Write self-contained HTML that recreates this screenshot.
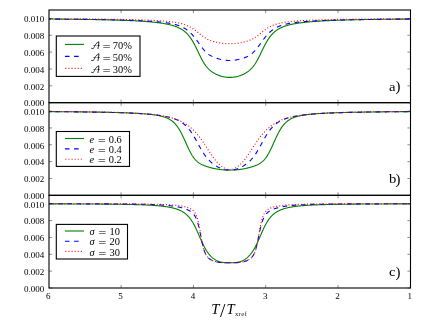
<!DOCTYPE html><html><head><meta charset="utf-8"><style>
html,body{margin:0;padding:0;background:#fff;width:436px;height:327px;overflow:hidden}
svg{display:block}
text{font-family:"Liberation Serif",serif;fill:#000}
.yt{font-size:9px;text-anchor:end}
.xt{font-size:9px;text-anchor:middle}
.lg{font-size:10.4px}
.eq{font-family:"DejaVu Serif",serif;fill:#7a7a7a}
.pl{font-size:13px}
.it{font-style:italic}
text.cal{font-family:"DejaVu Math TeX Gyre","DejaVu Serif",serif;font-size:9.6px}
</style></head><body>
<svg width="436" height="327" viewBox="0 0 436 327">
<rect width="436" height="327" fill="#fff"/>
<clipPath id="ca"><rect x="49.0" y="10.0" width="361.5" height="92.67"/></clipPath>
<g clip-path="url(#ca)" fill="none" stroke-width="1.1">
<path d="M49.00 19.04 L49.50 19.04 L50.00 19.04 L50.50 19.05 L51.00 19.05 L51.50 19.05 L52.00 19.06 L52.50 19.06 L53.00 19.07 L53.50 19.07 L54.00 19.07 L54.50 19.08 L55.00 19.08 L55.50 19.09 L56.00 19.09 L56.50 19.09 L57.00 19.10 L57.50 19.10 L58.00 19.11 L58.50 19.11 L59.00 19.12 L59.50 19.12 L60.00 19.12 L60.50 19.13 L61.00 19.13 L61.50 19.14 L62.00 19.14 L62.50 19.15 L63.00 19.15 L63.50 19.16 L64.00 19.16 L64.50 19.17 L65.00 19.17 L65.50 19.17 L66.00 19.18 L66.50 19.18 L67.00 19.19 L67.50 19.19 L68.00 19.20 L68.50 19.21 L69.00 19.21 L69.50 19.22 L70.00 19.22 L70.50 19.23 L71.00 19.23 L71.50 19.24 L72.00 19.24 L72.50 19.25 L73.00 19.25 L73.50 19.26 L74.00 19.27 L74.50 19.27 L75.00 19.28 L75.50 19.28 L76.00 19.29 L76.50 19.29 L77.00 19.30 L77.50 19.31 L78.00 19.31 L78.50 19.32 L79.00 19.33 L79.50 19.33 L80.00 19.34 L80.50 19.35 L81.00 19.35 L81.50 19.36 L82.00 19.37 L82.50 19.37 L83.00 19.38 L83.50 19.39 L84.00 19.39 L84.50 19.40 L85.00 19.41 L85.50 19.41 L86.00 19.42 L86.50 19.43 L87.00 19.44 L87.50 19.44 L88.00 19.45 L88.50 19.46 L89.00 19.47 L89.50 19.48 L90.00 19.48 L90.50 19.49 L91.00 19.50 L91.50 19.51 L92.00 19.52 L92.50 19.53 L93.00 19.53 L93.50 19.54 L94.00 19.55 L94.50 19.56 L95.00 19.57 L95.50 19.58 L96.00 19.59 L96.50 19.60 L97.00 19.61 L97.50 19.62 L98.00 19.62 L98.50 19.63 L99.00 19.64 L99.50 19.65 L100.00 19.66 L100.50 19.67 L101.00 19.68 L101.50 19.70 L102.00 19.71 L102.50 19.72 L103.00 19.73 L103.50 19.74 L104.00 19.75 L104.50 19.76 L105.00 19.77 L105.50 19.78 L106.00 19.79 L106.50 19.81 L107.00 19.82 L107.50 19.83 L108.00 19.84 L108.50 19.85 L109.00 19.87 L109.50 19.88 L110.00 19.89 L110.50 19.91 L111.00 19.92 L111.50 19.93 L112.00 19.95 L112.50 19.96 L113.00 19.97 L113.50 19.99 L114.00 20.00 L114.50 20.02 L115.00 20.03 L115.50 20.05 L116.00 20.06 L116.50 20.08 L117.00 20.09 L117.50 20.11 L118.00 20.12 L118.50 20.14 L119.00 20.15 L119.50 20.17 L120.00 20.19 L120.50 20.20 L121.00 20.22 L121.50 20.24 L122.00 20.26 L122.50 20.27 L123.00 20.29 L123.50 20.31 L124.00 20.33 L124.50 20.35 L125.00 20.37 L125.50 20.39 L126.00 20.41 L126.50 20.43 L127.00 20.45 L127.50 20.47 L128.00 20.49 L128.50 20.51 L129.00 20.53 L129.50 20.55 L130.00 20.58 L130.50 20.60 L131.00 20.62 L131.50 20.65 L132.00 20.67 L132.50 20.69 L133.00 20.72 L133.50 20.74 L134.00 20.77 L134.50 20.79 L135.00 20.82 L135.50 20.85 L136.00 20.87 L136.50 20.90 L137.00 20.93 L137.50 20.96 L138.00 20.98 L138.50 21.01 L139.00 21.04 L139.50 21.07 L140.00 21.10 L140.50 21.14 L141.00 21.17 L141.50 21.20 L142.00 21.23 L142.50 21.27 L143.00 21.30 L143.50 21.33 L144.00 21.37 L144.50 21.41 L145.00 21.44 L145.50 21.48 L146.00 21.52 L146.50 21.56 L147.00 21.60 L147.50 21.64 L148.00 21.68 L148.50 21.72 L149.00 21.76 L149.50 21.80 L150.00 21.85 L150.50 21.89 L151.00 21.94 L151.50 21.99 L152.00 22.04 L152.50 22.08 L153.00 22.13 L153.50 22.19 L154.00 22.24 L154.50 22.29 L155.00 22.35 L155.50 22.40 L156.00 22.46 L156.50 22.52 L157.00 22.58 L157.50 22.64 L158.00 22.70 L158.50 22.76 L159.00 22.83 L159.50 22.90 L160.00 22.96 L160.50 23.03 L161.00 23.11 L161.50 23.18 L162.00 23.26 L162.50 23.33 L163.00 23.41 L163.50 23.50 L164.00 23.58 L164.50 23.67 L165.00 23.76 L165.50 23.85 L166.00 23.94 L166.50 24.04 L167.00 24.14 L167.50 24.24 L168.00 24.35 L168.50 24.46 L169.00 24.57 L169.50 24.69 L170.00 24.81 L170.50 24.93 L171.00 25.06 L171.50 25.19 L172.00 25.33 L172.50 25.47 L173.00 25.62 L173.50 25.77 L174.00 25.93 L174.50 26.10 L175.00 26.27 L175.50 26.45 L176.00 26.63 L176.50 26.83 L177.00 27.03 L177.50 27.23 L178.00 27.45 L178.50 27.68 L179.00 27.92 L179.50 28.17 L180.00 28.42 L180.50 28.70 L181.00 28.98 L181.50 29.28 L182.00 29.59 L182.50 29.91 L183.00 30.25 L183.50 30.61 L184.00 30.99 L184.50 31.38 L185.00 31.79 L185.50 32.23 L186.00 32.68 L186.50 33.16 L187.00 33.66 L187.50 34.19 L188.00 34.74 L188.50 35.32 L189.00 35.93 L189.50 36.57 L190.00 37.23 L190.50 37.92 L191.00 38.65 L191.50 39.40 L192.00 40.19 L192.50 41.01 L193.00 41.85 L193.50 42.73 L194.00 43.63 L194.50 44.56 L195.00 45.52 L195.50 46.49 L196.00 47.49 L196.50 48.50 L197.00 49.52 L197.50 50.56 L198.00 51.60 L198.50 52.64 L199.00 53.68 L199.50 54.71 L200.00 55.73 L200.50 56.74 L201.00 57.72 L201.50 58.69 L202.00 59.63 L202.50 60.54 L203.00 61.42 L203.50 62.27 L204.00 63.09 L204.50 63.87 L205.00 64.61 L205.50 65.32 L206.00 66.00 L206.50 66.64 L207.00 67.25 L207.50 67.82 L208.00 68.37 L208.50 68.88 L209.00 69.37 L209.50 69.84 L210.00 70.27 L210.50 70.69 L211.00 71.08 L211.50 71.46 L212.00 71.82 L212.50 72.16 L213.00 72.48 L213.50 72.79 L214.00 73.09 L214.50 73.37 L215.00 73.64 L215.50 73.90 L216.00 74.15 L216.50 74.39 L217.00 74.62 L217.50 74.84 L218.00 75.05 L218.50 75.26 L219.00 75.45 L219.50 75.63 L220.00 75.81 L220.50 75.97 L221.00 76.13 L221.50 76.28 L222.00 76.42 L222.50 76.55 L223.00 76.67 L223.50 76.78 L224.00 76.88 L224.50 76.97 L225.00 77.05 L225.50 77.13 L226.00 77.19 L226.50 77.24 L227.00 77.29 L227.50 77.33 L228.00 77.36 L228.50 77.38 L229.00 77.39 L229.50 77.40 L230.00 77.40 L230.50 77.39 L231.00 77.38 L231.50 77.36 L232.00 77.33 L232.50 77.30 L233.00 77.25 L233.50 77.20 L234.00 77.14 L234.50 77.07 L235.00 76.99 L235.50 76.90 L236.00 76.80 L236.50 76.69 L237.00 76.57 L237.50 76.44 L238.00 76.31 L238.50 76.16 L239.00 76.01 L239.50 75.84 L240.00 75.67 L240.50 75.49 L241.00 75.30 L241.50 75.10 L242.00 74.89 L242.50 74.67 L243.00 74.44 L243.50 74.20 L244.00 73.96 L244.50 73.70 L245.00 73.43 L245.50 73.15 L246.00 72.85 L246.50 72.54 L247.00 72.22 L247.50 71.89 L248.00 71.53 L248.50 71.16 L249.00 70.77 L249.50 70.36 L250.00 69.92 L250.50 69.47 L251.00 68.98 L251.50 68.47 L252.00 67.93 L252.50 67.36 L253.00 66.76 L253.50 66.13 L254.00 65.46 L254.50 64.76 L255.00 64.02 L255.50 63.24 L256.00 62.44 L256.50 61.59 L257.00 60.72 L257.50 59.81 L258.00 58.88 L258.50 57.92 L259.00 56.94 L259.50 55.93 L260.00 54.92 L260.50 53.89 L261.00 52.85 L261.50 51.81 L262.00 50.77 L262.50 49.73 L263.00 48.70 L263.50 47.69 L264.00 46.69 L264.50 45.71 L265.00 44.75 L265.50 43.82 L266.00 42.91 L266.50 42.03 L267.00 41.17 L267.50 40.35 L268.00 39.56 L268.50 38.80 L269.00 38.07 L269.50 37.37 L270.00 36.70 L270.50 36.05 L271.00 35.44 L271.50 34.86 L272.00 34.30 L272.50 33.77 L273.00 33.26 L273.50 32.78 L274.00 32.32 L274.50 31.88 L275.00 31.46 L275.50 31.06 L276.00 30.68 L276.50 30.32 L277.00 29.98 L277.50 29.65 L278.00 29.34 L278.50 29.04 L279.00 28.75 L279.50 28.48 L280.00 28.22 L280.50 27.97 L281.00 27.73 L281.50 27.50 L282.00 27.28 L282.50 27.07 L283.00 26.86 L283.50 26.67 L284.00 26.48 L284.50 26.30 L285.00 26.13 L285.50 25.97 L286.00 25.81 L286.50 25.65 L287.00 25.50 L287.50 25.36 L288.00 25.22 L288.50 25.09 L289.00 24.96 L289.50 24.83 L290.00 24.71 L290.50 24.59 L291.00 24.48 L291.50 24.37 L292.00 24.26 L292.50 24.16 L293.00 24.06 L293.50 23.96 L294.00 23.87 L294.50 23.77 L295.00 23.69 L295.50 23.60 L296.00 23.51 L296.50 23.43 L297.00 23.35 L297.50 23.27 L298.00 23.20 L298.50 23.12 L299.00 23.05 L299.50 22.98 L300.00 22.91 L300.50 22.84 L301.00 22.78 L301.50 22.71 L302.00 22.65 L302.50 22.59 L303.00 22.53 L303.50 22.47 L304.00 22.41 L304.50 22.36 L305.00 22.30 L305.50 22.25 L306.00 22.20 L306.50 22.14 L307.00 22.09 L307.50 22.04 L308.00 22.00 L308.50 21.95 L309.00 21.90 L309.50 21.86 L310.00 21.81 L310.50 21.77 L311.00 21.73 L311.50 21.69 L312.00 21.64 L312.50 21.60 L313.00 21.56 L313.50 21.53 L314.00 21.49 L314.50 21.45 L315.00 21.41 L315.50 21.38 L316.00 21.34 L316.50 21.31 L317.00 21.27 L317.50 21.24 L318.00 21.21 L318.50 21.17 L319.00 21.14 L319.50 21.11 L320.00 21.08 L320.50 21.05 L321.00 21.02 L321.50 20.99 L322.00 20.96 L322.50 20.93 L323.00 20.91 L323.50 20.88 L324.00 20.85 L324.50 20.82 L325.00 20.80 L325.50 20.77 L326.00 20.75 L326.50 20.72 L327.00 20.70 L327.50 20.67 L328.00 20.65 L328.50 20.63 L329.00 20.60 L329.50 20.58 L330.00 20.56 L330.50 20.54 L331.00 20.51 L331.50 20.49 L332.00 20.47 L332.50 20.45 L333.00 20.43 L333.50 20.41 L334.00 20.39 L334.50 20.37 L335.00 20.35 L335.50 20.33 L336.00 20.31 L336.50 20.30 L337.00 20.28 L337.50 20.26 L338.00 20.24 L338.50 20.23 L339.00 20.21 L339.50 20.19 L340.00 20.17 L340.50 20.16 L341.00 20.14 L341.50 20.13 L342.00 20.11 L342.50 20.09 L343.00 20.08 L343.50 20.06 L344.00 20.05 L344.50 20.03 L345.00 20.02 L345.50 20.00 L346.00 19.99 L346.50 19.98 L347.00 19.96 L347.50 19.95 L348.00 19.94 L348.50 19.92 L349.00 19.91 L349.50 19.90 L350.00 19.88 L350.50 19.87 L351.00 19.86 L351.50 19.85 L352.00 19.83 L352.50 19.82 L353.00 19.81 L353.50 19.80 L354.00 19.79 L354.50 19.77 L355.00 19.76 L355.50 19.75 L356.00 19.74 L356.50 19.73 L357.00 19.72 L357.50 19.71 L358.00 19.70 L358.50 19.69 L359.00 19.68 L359.50 19.67 L360.00 19.66 L360.50 19.65 L361.00 19.64 L361.50 19.63 L362.00 19.62 L362.50 19.61 L363.00 19.60 L363.50 19.59 L364.00 19.58 L364.50 19.57 L365.00 19.56 L365.50 19.55 L366.00 19.54 L366.50 19.54 L367.00 19.53 L367.50 19.52 L368.00 19.51 L368.50 19.50 L369.00 19.49 L369.50 19.49 L370.00 19.48 L370.50 19.47 L371.00 19.46 L371.50 19.45 L372.00 19.45 L372.50 19.44 L373.00 19.43 L373.50 19.42 L374.00 19.42 L374.50 19.41 L375.00 19.40 L375.50 19.39 L376.00 19.39 L376.50 19.38 L377.00 19.37 L377.50 19.37 L378.00 19.36 L378.50 19.35 L379.00 19.35 L379.50 19.34 L380.00 19.33 L380.50 19.33 L381.00 19.32 L381.50 19.31 L382.00 19.31 L382.50 19.30 L383.00 19.30 L383.50 19.29 L384.00 19.28 L384.50 19.28 L385.00 19.27 L385.50 19.27 L386.00 19.26 L386.50 19.26 L387.00 19.25 L387.50 19.24 L388.00 19.24 L388.50 19.23 L389.00 19.23 L389.50 19.22 L390.00 19.22 L390.50 19.21 L391.00 19.21 L391.50 19.20 L392.00 19.20 L392.50 19.19 L393.00 19.19 L393.50 19.18 L394.00 19.18 L394.50 19.17 L395.00 19.17 L395.50 19.16 L396.00 19.16 L396.50 19.15 L397.00 19.15 L397.50 19.14 L398.00 19.14 L398.50 19.13 L399.00 19.13 L399.50 19.12 L400.00 19.12 L400.50 19.12 L401.00 19.11 L401.50 19.11 L402.00 19.10 L402.50 19.10 L403.00 19.09 L403.50 19.09 L404.00 19.09 L404.50 19.08 L405.00 19.08 L405.50 19.07 L406.00 19.07 L406.50 19.07 L407.00 19.06 L407.50 19.06 L408.00 19.05 L408.50 19.05 L409.00 19.05 L409.50 19.04 L410.00 19.04 L410.50 19.04" stroke="#008000"/>
<path d="M49.00 19.07 L49.50 19.07 L50.00 19.08 L50.50 19.08 L51.00 19.08 L51.50 19.09 L52.00 19.09 L52.50 19.09 L53.00 19.10 L53.50 19.10 L54.00 19.10 L54.50 19.11 L55.00 19.11 L55.50 19.11 L56.00 19.12 L56.50 19.12 L57.00 19.12 L57.50 19.13 L58.00 19.13 L58.50 19.14 L59.00 19.14 L59.50 19.14 L60.00 19.15 L60.50 19.15 L61.00 19.15 L61.50 19.16 L62.00 19.16 L62.50 19.17 L63.00 19.17 L63.50 19.17 L64.00 19.18 L64.50 19.18 L65.00 19.19 L65.50 19.19 L66.00 19.20 L66.50 19.20 L67.00 19.20 L67.50 19.21 L68.00 19.21 L68.50 19.22 L69.00 19.22 L69.50 19.23 L70.00 19.23 L70.50 19.24 L71.00 19.24 L71.50 19.25 L72.00 19.25 L72.50 19.25 L73.00 19.26 L73.50 19.26 L74.00 19.27 L74.50 19.27 L75.00 19.28 L75.50 19.28 L76.00 19.29 L76.50 19.29 L77.00 19.30 L77.50 19.30 L78.00 19.31 L78.50 19.31 L79.00 19.32 L79.50 19.33 L80.00 19.33 L80.50 19.34 L81.00 19.34 L81.50 19.35 L82.00 19.35 L82.50 19.36 L83.00 19.36 L83.50 19.37 L84.00 19.38 L84.50 19.38 L85.00 19.39 L85.50 19.39 L86.00 19.40 L86.50 19.41 L87.00 19.41 L87.50 19.42 L88.00 19.43 L88.50 19.43 L89.00 19.44 L89.50 19.44 L90.00 19.45 L90.50 19.46 L91.00 19.46 L91.50 19.47 L92.00 19.48 L92.50 19.48 L93.00 19.49 L93.50 19.50 L94.00 19.51 L94.50 19.51 L95.00 19.52 L95.50 19.53 L96.00 19.54 L96.50 19.54 L97.00 19.55 L97.50 19.56 L98.00 19.57 L98.50 19.57 L99.00 19.58 L99.50 19.59 L100.00 19.60 L100.50 19.61 L101.00 19.61 L101.50 19.62 L102.00 19.63 L102.50 19.64 L103.00 19.65 L103.50 19.66 L104.00 19.66 L104.50 19.67 L105.00 19.68 L105.50 19.69 L106.00 19.70 L106.50 19.71 L107.00 19.72 L107.50 19.73 L108.00 19.74 L108.50 19.75 L109.00 19.76 L109.50 19.77 L110.00 19.78 L110.50 19.79 L111.00 19.80 L111.50 19.81 L112.00 19.82 L112.50 19.83 L113.00 19.84 L113.50 19.85 L114.00 19.86 L114.50 19.87 L115.00 19.88 L115.50 19.90 L116.00 19.91 L116.50 19.92 L117.00 19.93 L117.50 19.94 L118.00 19.95 L118.50 19.97 L119.00 19.98 L119.50 19.99 L120.00 20.00 L120.50 20.02 L121.00 20.03 L121.50 20.04 L122.00 20.06 L122.50 20.07 L123.00 20.08 L123.50 20.10 L124.00 20.11 L124.50 20.13 L125.00 20.14 L125.50 20.16 L126.00 20.17 L126.50 20.19 L127.00 20.20 L127.50 20.22 L128.00 20.23 L128.50 20.25 L129.00 20.26 L129.50 20.28 L130.00 20.30 L130.50 20.31 L131.00 20.33 L131.50 20.35 L132.00 20.37 L132.50 20.38 L133.00 20.40 L133.50 20.42 L134.00 20.44 L134.50 20.46 L135.00 20.48 L135.50 20.50 L136.00 20.52 L136.50 20.54 L137.00 20.56 L137.50 20.58 L138.00 20.60 L138.50 20.62 L139.00 20.64 L139.50 20.66 L140.00 20.69 L140.50 20.71 L141.00 20.73 L141.50 20.76 L142.00 20.78 L142.50 20.81 L143.00 20.83 L143.50 20.86 L144.00 20.88 L144.50 20.91 L145.00 20.93 L145.50 20.96 L146.00 20.99 L146.50 21.02 L147.00 21.05 L147.50 21.08 L148.00 21.10 L148.50 21.14 L149.00 21.17 L149.50 21.20 L150.00 21.23 L150.50 21.26 L151.00 21.30 L151.50 21.33 L152.00 21.37 L152.50 21.40 L153.00 21.44 L153.50 21.47 L154.00 21.51 L154.50 21.55 L155.00 21.59 L155.50 21.63 L156.00 21.67 L156.50 21.71 L157.00 21.76 L157.50 21.80 L158.00 21.85 L158.50 21.89 L159.00 21.94 L159.50 21.99 L160.00 22.04 L160.50 22.09 L161.00 22.14 L161.50 22.20 L162.00 22.25 L162.50 22.31 L163.00 22.37 L163.50 22.43 L164.00 22.49 L164.50 22.55 L165.00 22.62 L165.50 22.69 L166.00 22.76 L166.50 22.83 L167.00 22.90 L167.50 22.98 L168.00 23.06 L168.50 23.14 L169.00 23.22 L169.50 23.31 L170.00 23.40 L170.50 23.49 L171.00 23.58 L171.50 23.68 L172.00 23.79 L172.50 23.89 L173.00 24.00 L173.50 24.12 L174.00 24.23 L174.50 24.36 L175.00 24.48 L175.50 24.62 L176.00 24.76 L176.50 24.90 L177.00 25.05 L177.50 25.20 L178.00 25.37 L178.50 25.54 L179.00 25.71 L179.50 25.90 L180.00 26.09 L180.50 26.29 L181.00 26.50 L181.50 26.72 L182.00 26.95 L182.50 27.18 L183.00 27.43 L183.50 27.69 L184.00 27.97 L184.50 28.25 L185.00 28.55 L185.50 28.86 L186.00 29.19 L186.50 29.53 L187.00 29.89 L187.50 30.26 L188.00 30.65 L188.50 31.06 L189.00 31.48 L189.50 31.92 L190.00 32.38 L190.50 32.86 L191.00 33.36 L191.50 33.87 L192.00 34.41 L192.50 34.96 L193.00 35.53 L193.50 36.12 L194.00 36.72 L194.50 37.35 L195.00 37.98 L195.50 38.63 L196.00 39.30 L196.50 39.97 L197.00 40.65 L197.50 41.35 L198.00 42.04 L198.50 42.74 L199.00 43.44 L199.50 44.14 L200.00 44.83 L200.50 45.52 L201.00 46.19 L201.50 46.86 L202.00 47.51 L202.50 48.15 L203.00 48.77 L203.50 49.38 L204.00 49.96 L204.50 50.52 L205.00 51.06 L205.50 51.58 L206.00 52.08 L206.50 52.55 L207.00 53.00 L207.50 53.43 L208.00 53.83 L208.50 54.22 L209.00 54.58 L209.50 54.92 L210.00 55.25 L210.50 55.55 L211.00 55.84 L211.50 56.12 L212.00 56.38 L212.50 56.62 L213.00 56.86 L213.50 57.08 L214.00 57.29 L214.50 57.49 L215.00 57.68 L215.50 57.86 L216.00 58.04 L216.50 58.20 L217.00 58.36 L217.50 58.52 L218.00 58.67 L218.50 58.81 L219.00 58.94 L219.50 59.08 L220.00 59.20 L220.50 59.32 L221.00 59.44 L221.50 59.55 L222.00 59.66 L222.50 59.76 L223.00 59.85 L223.50 59.94 L224.00 60.03 L224.50 60.11 L225.00 60.18 L225.50 60.25 L226.00 60.31 L226.50 60.36 L227.00 60.41 L227.50 60.45 L228.00 60.49 L228.50 60.52 L229.00 60.53 L229.50 60.55 L230.00 60.55 L230.50 60.54 L231.00 60.52 L231.50 60.49 L232.00 60.46 L232.50 60.42 L233.00 60.38 L233.50 60.32 L234.00 60.26 L234.50 60.20 L235.00 60.12 L235.50 60.04 L236.00 59.96 L236.50 59.87 L237.00 59.78 L237.50 59.68 L238.00 59.57 L238.50 59.46 L239.00 59.35 L239.50 59.23 L240.00 59.10 L240.50 58.97 L241.00 58.84 L241.50 58.69 L242.00 58.55 L242.50 58.40 L243.00 58.24 L243.50 58.07 L244.00 57.90 L244.50 57.72 L245.00 57.53 L245.50 57.33 L246.00 57.12 L246.50 56.90 L247.00 56.67 L247.50 56.43 L248.00 56.17 L248.50 55.90 L249.00 55.61 L249.50 55.31 L250.00 54.99 L250.50 54.65 L251.00 54.29 L251.50 53.91 L252.00 53.51 L252.50 53.09 L253.00 52.64 L253.50 52.17 L254.00 51.68 L254.50 51.17 L255.00 50.63 L255.50 50.07 L256.00 49.50 L256.50 48.90 L257.00 48.28 L257.50 47.64 L258.00 46.99 L258.50 46.33 L259.00 45.65 L259.50 44.97 L260.00 44.28 L260.50 43.58 L261.00 42.88 L261.50 42.18 L262.00 41.48 L262.50 40.79 L263.00 40.11 L263.50 39.43 L264.00 38.77 L264.50 38.11 L265.00 37.47 L265.50 36.85 L266.00 36.24 L266.50 35.65 L267.00 35.07 L267.50 34.52 L268.00 33.98 L268.50 33.46 L269.00 32.96 L269.50 32.48 L270.00 32.01 L270.50 31.57 L271.00 31.14 L271.50 30.73 L272.00 30.34 L272.50 29.96 L273.00 29.60 L273.50 29.26 L274.00 28.93 L274.50 28.61 L275.00 28.31 L275.50 28.02 L276.00 27.75 L276.50 27.49 L277.00 27.23 L277.50 26.99 L278.00 26.76 L278.50 26.54 L279.00 26.33 L279.50 26.13 L280.00 25.93 L280.50 25.75 L281.00 25.57 L281.50 25.40 L282.00 25.24 L282.50 25.08 L283.00 24.93 L283.50 24.78 L284.00 24.64 L284.50 24.51 L285.00 24.38 L285.50 24.26 L286.00 24.14 L286.50 24.02 L287.00 23.91 L287.50 23.81 L288.00 23.70 L288.50 23.60 L289.00 23.51 L289.50 23.41 L290.00 23.33 L290.50 23.24 L291.00 23.15 L291.50 23.07 L292.00 22.99 L292.50 22.92 L293.00 22.84 L293.50 22.77 L294.00 22.70 L294.50 22.63 L295.00 22.57 L295.50 22.50 L296.00 22.44 L296.50 22.38 L297.00 22.32 L297.50 22.27 L298.00 22.21 L298.50 22.16 L299.00 22.10 L299.50 22.05 L300.00 22.00 L300.50 21.95 L301.00 21.90 L301.50 21.86 L302.00 21.81 L302.50 21.77 L303.00 21.72 L303.50 21.68 L304.00 21.64 L304.50 21.60 L305.00 21.56 L305.50 21.52 L306.00 21.48 L306.50 21.44 L307.00 21.41 L307.50 21.37 L308.00 21.34 L308.50 21.30 L309.00 21.27 L309.50 21.24 L310.00 21.20 L310.50 21.17 L311.00 21.14 L311.50 21.11 L312.00 21.08 L312.50 21.05 L313.00 21.02 L313.50 20.99 L314.00 20.97 L314.50 20.94 L315.00 20.91 L315.50 20.89 L316.00 20.86 L316.50 20.84 L317.00 20.81 L317.50 20.79 L318.00 20.76 L318.50 20.74 L319.00 20.71 L319.50 20.69 L320.00 20.67 L320.50 20.65 L321.00 20.63 L321.50 20.60 L322.00 20.58 L322.50 20.56 L323.00 20.54 L323.50 20.52 L324.00 20.50 L324.50 20.48 L325.00 20.46 L325.50 20.44 L326.00 20.42 L326.50 20.41 L327.00 20.39 L327.50 20.37 L328.00 20.35 L328.50 20.34 L329.00 20.32 L329.50 20.30 L330.00 20.28 L330.50 20.27 L331.00 20.25 L331.50 20.24 L332.00 20.22 L332.50 20.20 L333.00 20.19 L333.50 20.17 L334.00 20.16 L334.50 20.14 L335.00 20.13 L335.50 20.12 L336.00 20.10 L336.50 20.09 L337.00 20.07 L337.50 20.06 L338.00 20.05 L338.50 20.03 L339.00 20.02 L339.50 20.01 L340.00 19.99 L340.50 19.98 L341.00 19.97 L341.50 19.96 L342.00 19.95 L342.50 19.93 L343.00 19.92 L343.50 19.91 L344.00 19.90 L344.50 19.89 L345.00 19.88 L345.50 19.86 L346.00 19.85 L346.50 19.84 L347.00 19.83 L347.50 19.82 L348.00 19.81 L348.50 19.80 L349.00 19.79 L349.50 19.78 L350.00 19.77 L350.50 19.76 L351.00 19.75 L351.50 19.74 L352.00 19.73 L352.50 19.72 L353.00 19.71 L353.50 19.70 L354.00 19.69 L354.50 19.68 L355.00 19.68 L355.50 19.67 L356.00 19.66 L356.50 19.65 L357.00 19.64 L357.50 19.63 L358.00 19.62 L358.50 19.62 L359.00 19.61 L359.50 19.60 L360.00 19.59 L360.50 19.58 L361.00 19.57 L361.50 19.57 L362.00 19.56 L362.50 19.55 L363.00 19.54 L363.50 19.54 L364.00 19.53 L364.50 19.52 L365.00 19.51 L365.50 19.51 L366.00 19.50 L366.50 19.49 L367.00 19.49 L367.50 19.48 L368.00 19.47 L368.50 19.47 L369.00 19.46 L369.50 19.45 L370.00 19.45 L370.50 19.44 L371.00 19.43 L371.50 19.43 L372.00 19.42 L372.50 19.41 L373.00 19.41 L373.50 19.40 L374.00 19.40 L374.50 19.39 L375.00 19.38 L375.50 19.38 L376.00 19.37 L376.50 19.37 L377.00 19.36 L377.50 19.35 L378.00 19.35 L378.50 19.34 L379.00 19.34 L379.50 19.33 L380.00 19.33 L380.50 19.32 L381.00 19.32 L381.50 19.31 L382.00 19.31 L382.50 19.30 L383.00 19.30 L383.50 19.29 L384.00 19.28 L384.50 19.28 L385.00 19.27 L385.50 19.27 L386.00 19.27 L386.50 19.26 L387.00 19.26 L387.50 19.25 L388.00 19.25 L388.50 19.24 L389.00 19.24 L389.50 19.23 L390.00 19.23 L390.50 19.22 L391.00 19.22 L391.50 19.21 L392.00 19.21 L392.50 19.21 L393.00 19.20 L393.50 19.20 L394.00 19.19 L394.50 19.19 L395.00 19.18 L395.50 19.18 L396.00 19.18 L396.50 19.17 L397.00 19.17 L397.50 19.16 L398.00 19.16 L398.50 19.16 L399.00 19.15 L399.50 19.15 L400.00 19.14 L400.50 19.14 L401.00 19.14 L401.50 19.13 L402.00 19.13 L402.50 19.13 L403.00 19.12 L403.50 19.12 L404.00 19.11 L404.50 19.11 L405.00 19.11 L405.50 19.10 L406.00 19.10 L406.50 19.10 L407.00 19.09 L407.50 19.09 L408.00 19.09 L408.50 19.08 L409.00 19.08 L409.50 19.08 L410.00 19.07 L410.50 19.07" stroke="#0000ff" stroke-dasharray="4.6 4.6" stroke-dashoffset="2.7"/>
<path d="M49.00 18.76 L49.50 18.77 L50.00 18.77 L50.50 18.77 L51.00 18.77 L51.50 18.77 L52.00 18.78 L52.50 18.78 L53.00 18.78 L53.50 18.78 L54.00 18.78 L54.50 18.79 L55.00 18.79 L55.50 18.79 L56.00 18.79 L56.50 18.79 L57.00 18.80 L57.50 18.80 L58.00 18.80 L58.50 18.80 L59.00 18.81 L59.50 18.81 L60.00 18.81 L60.50 18.81 L61.00 18.82 L61.50 18.82 L62.00 18.82 L62.50 18.82 L63.00 18.83 L63.50 18.83 L64.00 18.83 L64.50 18.83 L65.00 18.84 L65.50 18.84 L66.00 18.84 L66.50 18.84 L67.00 18.85 L67.50 18.85 L68.00 18.85 L68.50 18.85 L69.00 18.86 L69.50 18.86 L70.00 18.86 L70.50 18.87 L71.00 18.87 L71.50 18.87 L72.00 18.87 L72.50 18.88 L73.00 18.88 L73.50 18.88 L74.00 18.89 L74.50 18.89 L75.00 18.89 L75.50 18.90 L76.00 18.90 L76.50 18.90 L77.00 18.90 L77.50 18.91 L78.00 18.91 L78.50 18.91 L79.00 18.92 L79.50 18.92 L80.00 18.92 L80.50 18.93 L81.00 18.93 L81.50 18.93 L82.00 18.94 L82.50 18.94 L83.00 18.95 L83.50 18.95 L84.00 18.95 L84.50 18.96 L85.00 18.96 L85.50 18.96 L86.00 18.97 L86.50 18.97 L87.00 18.98 L87.50 18.98 L88.00 18.98 L88.50 18.99 L89.00 18.99 L89.50 19.00 L90.00 19.00 L90.50 19.00 L91.00 19.01 L91.50 19.01 L92.00 19.02 L92.50 19.02 L93.00 19.03 L93.50 19.03 L94.00 19.04 L94.50 19.04 L95.00 19.04 L95.50 19.05 L96.00 19.05 L96.50 19.06 L97.00 19.06 L97.50 19.07 L98.00 19.07 L98.50 19.08 L99.00 19.08 L99.50 19.09 L100.00 19.09 L100.50 19.10 L101.00 19.10 L101.50 19.11 L102.00 19.12 L102.50 19.12 L103.00 19.13 L103.50 19.13 L104.00 19.14 L104.50 19.14 L105.00 19.15 L105.50 19.16 L106.00 19.16 L106.50 19.17 L107.00 19.17 L107.50 19.18 L108.00 19.19 L108.50 19.19 L109.00 19.20 L109.50 19.21 L110.00 19.21 L110.50 19.22 L111.00 19.23 L111.50 19.23 L112.00 19.24 L112.50 19.25 L113.00 19.25 L113.50 19.26 L114.00 19.27 L114.50 19.28 L115.00 19.28 L115.50 19.29 L116.00 19.30 L116.50 19.31 L117.00 19.31 L117.50 19.32 L118.00 19.33 L118.50 19.34 L119.00 19.35 L119.50 19.36 L120.00 19.36 L120.50 19.37 L121.00 19.38 L121.50 19.39 L122.00 19.40 L122.50 19.41 L123.00 19.42 L123.50 19.43 L124.00 19.44 L124.50 19.45 L125.00 19.46 L125.50 19.47 L126.00 19.48 L126.50 19.49 L127.00 19.50 L127.50 19.51 L128.00 19.52 L128.50 19.53 L129.00 19.54 L129.50 19.55 L130.00 19.56 L130.50 19.57 L131.00 19.58 L131.50 19.60 L132.00 19.61 L132.50 19.62 L133.00 19.63 L133.50 19.65 L134.00 19.66 L134.50 19.67 L135.00 19.68 L135.50 19.70 L136.00 19.71 L136.50 19.72 L137.00 19.74 L137.50 19.75 L138.00 19.77 L138.50 19.78 L139.00 19.80 L139.50 19.81 L140.00 19.83 L140.50 19.84 L141.00 19.86 L141.50 19.88 L142.00 19.89 L142.50 19.91 L143.00 19.93 L143.50 19.94 L144.00 19.96 L144.50 19.98 L145.00 20.00 L145.50 20.02 L146.00 20.03 L146.50 20.05 L147.00 20.07 L147.50 20.09 L148.00 20.11 L148.50 20.13 L149.00 20.16 L149.50 20.18 L150.00 20.20 L150.50 20.22 L151.00 20.24 L151.50 20.27 L152.00 20.29 L152.50 20.32 L153.00 20.34 L153.50 20.37 L154.00 20.39 L154.50 20.42 L155.00 20.44 L155.50 20.47 L156.00 20.50 L156.50 20.53 L157.00 20.56 L157.50 20.59 L158.00 20.62 L158.50 20.65 L159.00 20.68 L159.50 20.71 L160.00 20.75 L160.50 20.78 L161.00 20.82 L161.50 20.85 L162.00 20.89 L162.50 20.93 L163.00 20.97 L163.50 21.01 L164.00 21.05 L164.50 21.09 L165.00 21.13 L165.50 21.18 L166.00 21.22 L166.50 21.27 L167.00 21.32 L167.50 21.36 L168.00 21.41 L168.50 21.47 L169.00 21.52 L169.50 21.58 L170.00 21.63 L170.50 21.69 L171.00 21.75 L171.50 21.81 L172.00 21.88 L172.50 21.94 L173.00 22.01 L173.50 22.08 L174.00 22.16 L174.50 22.23 L175.00 22.31 L175.50 22.39 L176.00 22.48 L176.50 22.56 L177.00 22.66 L177.50 22.75 L178.00 22.85 L178.50 22.95 L179.00 23.05 L179.50 23.16 L180.00 23.28 L180.50 23.40 L181.00 23.52 L181.50 23.65 L182.00 23.78 L182.50 23.92 L183.00 24.07 L183.50 24.22 L184.00 24.38 L184.50 24.54 L185.00 24.72 L185.50 24.90 L186.00 25.09 L186.50 25.28 L187.00 25.49 L187.50 25.70 L188.00 25.92 L188.50 26.16 L189.00 26.40 L189.50 26.65 L190.00 26.91 L190.50 27.19 L191.00 27.47 L191.50 27.76 L192.00 28.07 L192.50 28.38 L193.00 28.71 L193.50 29.05 L194.00 29.39 L194.50 29.75 L195.00 30.12 L195.50 30.49 L196.00 30.87 L196.50 31.26 L197.00 31.65 L197.50 32.05 L198.00 32.45 L198.50 32.86 L199.00 33.26 L199.50 33.67 L200.00 34.07 L200.50 34.47 L201.00 34.87 L201.50 35.26 L202.00 35.64 L202.50 36.01 L203.00 36.38 L203.50 36.74 L204.00 37.08 L204.50 37.42 L205.00 37.74 L205.50 38.05 L206.00 38.35 L206.50 38.63 L207.00 38.90 L207.50 39.16 L208.00 39.41 L208.50 39.65 L209.00 39.88 L209.50 40.09 L210.00 40.30 L210.50 40.49 L211.00 40.68 L211.50 40.86 L212.00 41.03 L212.50 41.19 L213.00 41.34 L213.50 41.49 L214.00 41.63 L214.50 41.76 L215.00 41.89 L215.50 42.02 L216.00 42.14 L216.50 42.25 L217.00 42.36 L217.50 42.46 L218.00 42.56 L218.50 42.66 L219.00 42.75 L219.50 42.84 L220.00 42.92 L220.50 43.00 L221.00 43.07 L221.50 43.14 L222.00 43.21 L222.50 43.27 L223.00 43.33 L223.50 43.38 L224.00 43.43 L224.50 43.48 L225.00 43.52 L225.50 43.56 L226.00 43.59 L226.50 43.62 L227.00 43.64 L227.50 43.66 L228.00 43.68 L228.50 43.69 L229.00 43.69 L229.50 43.70 L230.00 43.70 L230.50 43.70 L231.00 43.69 L231.50 43.68 L232.00 43.66 L232.50 43.65 L233.00 43.62 L233.50 43.60 L234.00 43.56 L234.50 43.53 L235.00 43.49 L235.50 43.44 L236.00 43.39 L236.50 43.34 L237.00 43.28 L237.50 43.22 L238.00 43.16 L238.50 43.09 L239.00 43.01 L239.50 42.94 L240.00 42.85 L240.50 42.77 L241.00 42.68 L241.50 42.58 L242.00 42.48 L242.50 42.38 L243.00 42.27 L243.50 42.16 L244.00 42.04 L244.50 41.92 L245.00 41.79 L245.50 41.66 L246.00 41.52 L246.50 41.37 L247.00 41.22 L247.50 41.06 L248.00 40.89 L248.50 40.71 L249.00 40.53 L249.50 40.34 L250.00 40.13 L250.50 39.92 L251.00 39.70 L251.50 39.46 L252.00 39.22 L252.50 38.96 L253.00 38.69 L253.50 38.40 L254.00 38.11 L254.50 37.80 L255.00 37.48 L255.50 37.15 L256.00 36.81 L256.50 36.45 L257.00 36.09 L257.50 35.72 L258.00 35.33 L258.50 34.95 L259.00 34.55 L259.50 34.15 L260.00 33.75 L260.50 33.34 L261.00 32.94 L261.50 32.53 L262.00 32.13 L262.50 31.73 L263.00 31.34 L263.50 30.95 L264.00 30.56 L264.50 30.19 L265.00 29.82 L265.50 29.46 L266.00 29.12 L266.50 28.78 L267.00 28.45 L267.50 28.13 L268.00 27.82 L268.50 27.53 L269.00 27.24 L269.50 26.97 L270.00 26.70 L270.50 26.45 L271.00 26.20 L271.50 25.97 L272.00 25.74 L272.50 25.53 L273.00 25.32 L273.50 25.12 L274.00 24.93 L274.50 24.75 L275.00 24.58 L275.50 24.41 L276.00 24.25 L276.50 24.10 L277.00 23.95 L277.50 23.81 L278.00 23.67 L278.50 23.55 L279.00 23.42 L279.50 23.30 L280.00 23.19 L280.50 23.08 L281.00 22.97 L281.50 22.87 L282.00 22.77 L282.50 22.67 L283.00 22.58 L283.50 22.49 L284.00 22.41 L284.50 22.33 L285.00 22.25 L285.50 22.17 L286.00 22.10 L286.50 22.03 L287.00 21.96 L287.50 21.89 L288.00 21.83 L288.50 21.76 L289.00 21.70 L289.50 21.64 L290.00 21.59 L290.50 21.53 L291.00 21.48 L291.50 21.43 L292.00 21.37 L292.50 21.33 L293.00 21.28 L293.50 21.23 L294.00 21.18 L294.50 21.14 L295.00 21.10 L295.50 21.06 L296.00 21.01 L296.50 20.97 L297.00 20.94 L297.50 20.90 L298.00 20.86 L298.50 20.82 L299.00 20.79 L299.50 20.76 L300.00 20.72 L300.50 20.69 L301.00 20.66 L301.50 20.62 L302.00 20.59 L302.50 20.56 L303.00 20.53 L303.50 20.51 L304.00 20.48 L304.50 20.45 L305.00 20.42 L305.50 20.40 L306.00 20.37 L306.50 20.35 L307.00 20.32 L307.50 20.30 L308.00 20.27 L308.50 20.25 L309.00 20.23 L309.50 20.20 L310.00 20.18 L310.50 20.16 L311.00 20.14 L311.50 20.12 L312.00 20.10 L312.50 20.08 L313.00 20.06 L313.50 20.04 L314.00 20.02 L314.50 20.00 L315.00 19.98 L315.50 19.96 L316.00 19.95 L316.50 19.93 L317.00 19.91 L317.50 19.90 L318.00 19.88 L318.50 19.86 L319.00 19.85 L319.50 19.83 L320.00 19.82 L320.50 19.80 L321.00 19.79 L321.50 19.77 L322.00 19.76 L322.50 19.74 L323.00 19.73 L323.50 19.71 L324.00 19.70 L324.50 19.69 L325.00 19.67 L325.50 19.66 L326.00 19.65 L326.50 19.64 L327.00 19.62 L327.50 19.61 L328.00 19.60 L328.50 19.59 L329.00 19.58 L329.50 19.56 L330.00 19.55 L330.50 19.54 L331.00 19.53 L331.50 19.52 L332.00 19.51 L332.50 19.50 L333.00 19.49 L333.50 19.48 L334.00 19.47 L334.50 19.46 L335.00 19.45 L335.50 19.44 L336.00 19.43 L336.50 19.42 L337.00 19.41 L337.50 19.40 L338.00 19.39 L338.50 19.38 L339.00 19.37 L339.50 19.37 L340.00 19.36 L340.50 19.35 L341.00 19.34 L341.50 19.33 L342.00 19.32 L342.50 19.32 L343.00 19.31 L343.50 19.30 L344.00 19.29 L344.50 19.28 L345.00 19.28 L345.50 19.27 L346.00 19.26 L346.50 19.26 L347.00 19.25 L347.50 19.24 L348.00 19.23 L348.50 19.23 L349.00 19.22 L349.50 19.21 L350.00 19.21 L350.50 19.20 L351.00 19.19 L351.50 19.19 L352.00 19.18 L352.50 19.18 L353.00 19.17 L353.50 19.16 L354.00 19.16 L354.50 19.15 L355.00 19.15 L355.50 19.14 L356.00 19.13 L356.50 19.13 L357.00 19.12 L357.50 19.12 L358.00 19.11 L358.50 19.11 L359.00 19.10 L359.50 19.10 L360.00 19.09 L360.50 19.08 L361.00 19.08 L361.50 19.07 L362.00 19.07 L362.50 19.06 L363.00 19.06 L363.50 19.06 L364.00 19.05 L364.50 19.05 L365.00 19.04 L365.50 19.04 L366.00 19.03 L366.50 19.03 L367.00 19.02 L367.50 19.02 L368.00 19.01 L368.50 19.01 L369.00 19.01 L369.50 19.00 L370.00 19.00 L370.50 18.99 L371.00 18.99 L371.50 18.98 L372.00 18.98 L372.50 18.98 L373.00 18.97 L373.50 18.97 L374.00 18.97 L374.50 18.96 L375.00 18.96 L375.50 18.95 L376.00 18.95 L376.50 18.95 L377.00 18.94 L377.50 18.94 L378.00 18.94 L378.50 18.93 L379.00 18.93 L379.50 18.93 L380.00 18.92 L380.50 18.92 L381.00 18.92 L381.50 18.91 L382.00 18.91 L382.50 18.91 L383.00 18.90 L383.50 18.90 L384.00 18.90 L384.50 18.89 L385.00 18.89 L385.50 18.89 L386.00 18.88 L386.50 18.88 L387.00 18.88 L387.50 18.87 L388.00 18.87 L388.50 18.87 L389.00 18.87 L389.50 18.86 L390.00 18.86 L390.50 18.86 L391.00 18.85 L391.50 18.85 L392.00 18.85 L392.50 18.85 L393.00 18.84 L393.50 18.84 L394.00 18.84 L394.50 18.84 L395.00 18.83 L395.50 18.83 L396.00 18.83 L396.50 18.83 L397.00 18.82 L397.50 18.82 L398.00 18.82 L398.50 18.82 L399.00 18.81 L399.50 18.81 L400.00 18.81 L400.50 18.81 L401.00 18.80 L401.50 18.80 L402.00 18.80 L402.50 18.80 L403.00 18.80 L403.50 18.79 L404.00 18.79 L404.50 18.79 L405.00 18.79 L405.50 18.78 L406.00 18.78 L406.50 18.78 L407.00 18.78 L407.50 18.78 L408.00 18.77 L408.50 18.77 L409.00 18.77 L409.50 18.77 L410.00 18.77 L410.50 18.76" stroke="#ff0000" stroke-dasharray="1.0 2.08"/>
</g>
<path d="M49.0 102.67h3.1M410.5 102.67h-3.1M49.0 85.82h3.1M410.5 85.82h-3.1M49.0 68.97h3.1M410.5 68.97h-3.1M49.0 52.12h3.1M410.5 52.12h-3.1M49.0 35.27h3.1M410.5 35.27h-3.1M49.0 18.42h3.1M410.5 18.42h-3.1M121.10 10.0v3.1M121.10 102.67v-3.1M193.40 10.0v3.1M193.40 102.67v-3.1M265.70 10.0v3.1M265.70 102.67v-3.1M338.00 10.0v3.1M338.00 102.67v-3.1" stroke="#000" stroke-width="0.45" fill="none"/>
<rect x="49.0" y="10.0" width="361.5" height="92.67" fill="none" stroke="#000" stroke-width="1.1"/>
<text class="yt" x="44.2" y="106.47">0.000</text>
<text class="yt" x="44.2" y="89.62">0.002</text>
<text class="yt" x="44.2" y="72.77">0.004</text>
<text class="yt" x="44.2" y="55.92">0.006</text>
<text class="yt" x="44.2" y="39.07">0.008</text>
<text class="yt" x="44.2" y="22.22">0.010</text>
<clipPath id="cb"><rect x="49.0" y="102.67" width="361.5" height="92.67"/></clipPath>
<g clip-path="url(#cb)" fill="none" stroke-width="1.1">
<path d="M49.00 111.60 L49.50 111.60 L50.00 111.60 L50.50 111.61 L51.00 111.61 L51.50 111.61 L52.00 111.62 L52.50 111.62 L53.00 111.62 L53.50 111.63 L54.00 111.63 L54.50 111.63 L55.00 111.64 L55.50 111.64 L56.00 111.64 L56.50 111.65 L57.00 111.65 L57.50 111.66 L58.00 111.66 L58.50 111.66 L59.00 111.67 L59.50 111.67 L60.00 111.67 L60.50 111.68 L61.00 111.68 L61.50 111.69 L62.00 111.69 L62.50 111.69 L63.00 111.70 L63.50 111.70 L64.00 111.71 L64.50 111.71 L65.00 111.72 L65.50 111.72 L66.00 111.72 L66.50 111.73 L67.00 111.73 L67.50 111.74 L68.00 111.74 L68.50 111.75 L69.00 111.75 L69.50 111.76 L70.00 111.76 L70.50 111.76 L71.00 111.77 L71.50 111.77 L72.00 111.78 L72.50 111.78 L73.00 111.79 L73.50 111.79 L74.00 111.80 L74.50 111.80 L75.00 111.81 L75.50 111.81 L76.00 111.82 L76.50 111.83 L77.00 111.83 L77.50 111.84 L78.00 111.84 L78.50 111.85 L79.00 111.85 L79.50 111.86 L80.00 111.86 L80.50 111.87 L81.00 111.88 L81.50 111.88 L82.00 111.89 L82.50 111.89 L83.00 111.90 L83.50 111.91 L84.00 111.91 L84.50 111.92 L85.00 111.93 L85.50 111.93 L86.00 111.94 L86.50 111.95 L87.00 111.95 L87.50 111.96 L88.00 111.97 L88.50 111.97 L89.00 111.98 L89.50 111.99 L90.00 111.99 L90.50 112.00 L91.00 112.01 L91.50 112.02 L92.00 112.02 L92.50 112.03 L93.00 112.04 L93.50 112.05 L94.00 112.05 L94.50 112.06 L95.00 112.07 L95.50 112.08 L96.00 112.09 L96.50 112.10 L97.00 112.10 L97.50 112.11 L98.00 112.12 L98.50 112.13 L99.00 112.14 L99.50 112.15 L100.00 112.16 L100.50 112.17 L101.00 112.18 L101.50 112.18 L102.00 112.19 L102.50 112.20 L103.00 112.21 L103.50 112.22 L104.00 112.23 L104.50 112.24 L105.00 112.25 L105.50 112.26 L106.00 112.28 L106.50 112.29 L107.00 112.30 L107.50 112.31 L108.00 112.32 L108.50 112.33 L109.00 112.34 L109.50 112.35 L110.00 112.36 L110.50 112.38 L111.00 112.39 L111.50 112.40 L112.00 112.41 L112.50 112.43 L113.00 112.44 L113.50 112.45 L114.00 112.46 L114.50 112.48 L115.00 112.49 L115.50 112.50 L116.00 112.52 L116.50 112.53 L117.00 112.55 L117.50 112.56 L118.00 112.58 L118.50 112.59 L119.00 112.61 L119.50 112.62 L120.00 112.64 L120.50 112.65 L121.00 112.67 L121.50 112.68 L122.00 112.70 L122.50 112.72 L123.00 112.73 L123.50 112.75 L124.00 112.77 L124.50 112.79 L125.00 112.81 L125.50 112.82 L126.00 112.84 L126.50 112.86 L127.00 112.88 L127.50 112.90 L128.00 112.92 L128.50 112.94 L129.00 112.96 L129.50 112.98 L130.00 113.00 L130.50 113.03 L131.00 113.05 L131.50 113.07 L132.00 113.09 L132.50 113.12 L133.00 113.14 L133.50 113.16 L134.00 113.19 L134.50 113.21 L135.00 113.24 L135.50 113.27 L136.00 113.29 L136.50 113.32 L137.00 113.35 L137.50 113.38 L138.00 113.40 L138.50 113.43 L139.00 113.46 L139.50 113.50 L140.00 113.53 L140.50 113.56 L141.00 113.59 L141.50 113.63 L142.00 113.66 L142.50 113.69 L143.00 113.73 L143.50 113.77 L144.00 113.81 L144.50 113.84 L145.00 113.88 L145.50 113.92 L146.00 113.97 L146.50 114.01 L147.00 114.05 L147.50 114.10 L148.00 114.15 L148.50 114.19 L149.00 114.24 L149.50 114.29 L150.00 114.35 L150.50 114.40 L151.00 114.46 L151.50 114.51 L152.00 114.57 L152.50 114.63 L153.00 114.70 L153.50 114.76 L154.00 114.83 L154.50 114.90 L155.00 114.97 L155.50 115.05 L156.00 115.13 L156.50 115.21 L157.00 115.29 L157.50 115.38 L158.00 115.47 L158.50 115.56 L159.00 115.66 L159.50 115.77 L160.00 115.87 L160.50 115.99 L161.00 116.11 L161.50 116.23 L162.00 116.36 L162.50 116.49 L163.00 116.63 L163.50 116.78 L164.00 116.94 L164.50 117.10 L165.00 117.28 L165.50 117.46 L166.00 117.65 L166.50 117.85 L167.00 118.07 L167.50 118.29 L168.00 118.53 L168.50 118.78 L169.00 119.04 L169.50 119.32 L170.00 119.62 L170.50 119.93 L171.00 120.26 L171.50 120.61 L172.00 120.99 L172.50 121.38 L173.00 121.79 L173.50 122.24 L174.00 122.70 L174.50 123.19 L175.00 123.71 L175.50 124.26 L176.00 124.84 L176.50 125.46 L177.00 126.10 L177.50 126.78 L178.00 127.49 L178.50 128.24 L179.00 129.02 L179.50 129.84 L180.00 130.69 L180.50 131.58 L181.00 132.50 L181.50 133.46 L182.00 134.44 L182.50 135.46 L183.00 136.50 L183.50 137.56 L184.00 138.64 L184.50 139.74 L185.00 140.85 L185.50 141.97 L186.00 143.09 L186.50 144.21 L187.00 145.33 L187.50 146.43 L188.00 147.51 L188.50 148.58 L189.00 149.62 L189.50 150.64 L190.00 151.62 L190.50 152.57 L191.00 153.48 L191.50 154.35 L192.00 155.19 L192.50 155.98 L193.00 156.73 L193.50 157.45 L194.00 158.12 L194.50 158.75 L195.00 159.35 L195.50 159.91 L196.00 160.43 L196.50 160.92 L197.00 161.38 L197.50 161.81 L198.00 162.21 L198.50 162.58 L199.00 162.93 L199.50 163.26 L200.00 163.57 L200.50 163.87 L201.00 164.14 L201.50 164.40 L202.00 164.65 L202.50 164.88 L203.00 165.10 L203.50 165.31 L204.00 165.52 L204.50 165.71 L205.00 165.90 L205.50 166.08 L206.00 166.25 L206.50 166.42 L207.00 166.58 L207.50 166.74 L208.00 166.89 L208.50 167.04 L209.00 167.19 L209.50 167.33 L210.00 167.47 L210.50 167.60 L211.00 167.73 L211.50 167.86 L212.00 167.99 L212.50 168.11 L213.00 168.23 L213.50 168.34 L214.00 168.45 L214.50 168.56 L215.00 168.66 L215.50 168.77 L216.00 168.86 L216.50 168.96 L217.00 169.05 L217.50 169.13 L218.00 169.22 L218.50 169.29 L219.00 169.37 L219.50 169.44 L220.00 169.51 L220.50 169.57 L221.00 169.63 L221.50 169.68 L222.00 169.73 L222.50 169.78 L223.00 169.82 L223.50 169.86 L224.00 169.90 L224.50 169.93 L225.00 169.96 L225.50 169.98 L226.00 170.00 L226.50 170.02 L227.00 170.04 L227.50 170.05 L228.00 170.06 L228.50 170.06 L229.00 170.06 L229.50 170.07 L230.00 170.07 L230.50 170.07 L231.00 170.06 L231.50 170.06 L232.00 170.05 L232.50 170.04 L233.00 170.02 L233.50 170.01 L234.00 169.99 L234.50 169.96 L235.00 169.94 L235.50 169.91 L236.00 169.87 L236.50 169.83 L237.00 169.79 L237.50 169.74 L238.00 169.69 L238.50 169.64 L239.00 169.58 L239.50 169.52 L240.00 169.45 L240.50 169.38 L241.00 169.31 L241.50 169.23 L242.00 169.15 L242.50 169.06 L243.00 168.97 L243.50 168.88 L244.00 168.79 L244.50 168.68 L245.00 168.58 L245.50 168.47 L246.00 168.36 L246.50 168.25 L247.00 168.13 L247.50 168.01 L248.00 167.89 L248.50 167.76 L249.00 167.63 L249.50 167.50 L250.00 167.36 L250.50 167.22 L251.00 167.07 L251.50 166.92 L252.00 166.77 L252.50 166.61 L253.00 166.45 L253.50 166.29 L254.00 166.11 L254.50 165.93 L255.00 165.75 L255.50 165.56 L256.00 165.36 L256.50 165.15 L257.00 164.93 L257.50 164.69 L258.00 164.45 L258.50 164.19 L259.00 163.92 L259.50 163.63 L260.00 163.33 L260.50 163.00 L261.00 162.65 L261.50 162.28 L262.00 161.89 L262.50 161.46 L263.00 161.01 L263.50 160.53 L264.00 160.01 L264.50 159.46 L265.00 158.87 L265.50 158.25 L266.00 157.58 L266.50 156.88 L267.00 156.14 L267.50 155.35 L268.00 154.52 L268.50 153.66 L269.00 152.75 L269.50 151.81 L270.00 150.84 L270.50 149.83 L271.00 148.79 L271.50 147.73 L272.00 146.65 L272.50 145.55 L273.00 144.44 L273.50 143.32 L274.00 142.19 L274.50 141.08 L275.00 139.96 L275.50 138.86 L276.00 137.77 L276.50 136.71 L277.00 135.66 L277.50 134.64 L278.00 133.65 L278.50 132.69 L279.00 131.76 L279.50 130.87 L280.00 130.01 L280.50 129.18 L281.00 128.39 L281.50 127.64 L282.00 126.92 L282.50 126.23 L283.00 125.58 L283.50 124.96 L284.00 124.38 L284.50 123.82 L285.00 123.30 L285.50 122.80 L286.00 122.33 L286.50 121.88 L287.00 121.46 L287.50 121.06 L288.00 120.69 L288.50 120.33 L289.00 120.00 L289.50 119.68 L290.00 119.38 L290.50 119.10 L291.00 118.83 L291.50 118.58 L292.00 118.34 L292.50 118.11 L293.00 117.89 L293.50 117.69 L294.00 117.50 L294.50 117.31 L295.00 117.14 L295.50 116.97 L296.00 116.81 L296.50 116.66 L297.00 116.52 L297.50 116.38 L298.00 116.25 L298.50 116.13 L299.00 116.01 L299.50 115.90 L300.00 115.79 L300.50 115.68 L301.00 115.58 L301.50 115.49 L302.00 115.40 L302.50 115.31 L303.00 115.22 L303.50 115.14 L304.00 115.06 L304.50 114.99 L305.00 114.91 L305.50 114.84 L306.00 114.77 L306.50 114.71 L307.00 114.65 L307.50 114.58 L308.00 114.52 L308.50 114.47 L309.00 114.41 L309.50 114.36 L310.00 114.30 L310.50 114.25 L311.00 114.20 L311.50 114.16 L312.00 114.11 L312.50 114.06 L313.00 114.02 L313.50 113.98 L314.00 113.93 L314.50 113.89 L315.00 113.85 L315.50 113.81 L316.00 113.78 L316.50 113.74 L317.00 113.70 L317.50 113.67 L318.00 113.63 L318.50 113.60 L319.00 113.57 L319.50 113.53 L320.00 113.50 L320.50 113.47 L321.00 113.44 L321.50 113.41 L322.00 113.38 L322.50 113.35 L323.00 113.33 L323.50 113.30 L324.00 113.27 L324.50 113.25 L325.00 113.22 L325.50 113.19 L326.00 113.17 L326.50 113.14 L327.00 113.12 L327.50 113.10 L328.00 113.07 L328.50 113.05 L329.00 113.03 L329.50 113.01 L330.00 112.99 L330.50 112.97 L331.00 112.94 L331.50 112.92 L332.00 112.90 L332.50 112.88 L333.00 112.87 L333.50 112.85 L334.00 112.83 L334.50 112.81 L335.00 112.79 L335.50 112.77 L336.00 112.76 L336.50 112.74 L337.00 112.72 L337.50 112.70 L338.00 112.69 L338.50 112.67 L339.00 112.66 L339.50 112.64 L340.00 112.62 L340.50 112.61 L341.00 112.59 L341.50 112.58 L342.00 112.56 L342.50 112.55 L343.00 112.54 L343.50 112.52 L344.00 112.51 L344.50 112.49 L345.00 112.48 L345.50 112.47 L346.00 112.45 L346.50 112.44 L347.00 112.43 L347.50 112.42 L348.00 112.40 L348.50 112.39 L349.00 112.38 L349.50 112.37 L350.00 112.36 L350.50 112.34 L351.00 112.33 L351.50 112.32 L352.00 112.31 L352.50 112.30 L353.00 112.29 L353.50 112.28 L354.00 112.27 L354.50 112.26 L355.00 112.25 L355.50 112.24 L356.00 112.23 L356.50 112.22 L357.00 112.21 L357.50 112.20 L358.00 112.19 L358.50 112.18 L359.00 112.17 L359.50 112.16 L360.00 112.15 L360.50 112.14 L361.00 112.13 L361.50 112.12 L362.00 112.11 L362.50 112.11 L363.00 112.10 L363.50 112.09 L364.00 112.08 L364.50 112.07 L365.00 112.06 L365.50 112.06 L366.00 112.05 L366.50 112.04 L367.00 112.03 L367.50 112.03 L368.00 112.02 L368.50 112.01 L369.00 112.00 L369.50 112.00 L370.00 111.99 L370.50 111.98 L371.00 111.97 L371.50 111.97 L372.00 111.96 L372.50 111.95 L373.00 111.95 L373.50 111.94 L374.00 111.93 L374.50 111.93 L375.00 111.92 L375.50 111.91 L376.00 111.91 L376.50 111.90 L377.00 111.90 L377.50 111.89 L378.00 111.88 L378.50 111.88 L379.00 111.87 L379.50 111.87 L380.00 111.86 L380.50 111.85 L381.00 111.85 L381.50 111.84 L382.00 111.84 L382.50 111.83 L383.00 111.83 L383.50 111.82 L384.00 111.82 L384.50 111.81 L385.00 111.81 L385.50 111.80 L386.00 111.80 L386.50 111.79 L387.00 111.79 L387.50 111.78 L388.00 111.78 L388.50 111.77 L389.00 111.77 L389.50 111.76 L390.00 111.76 L390.50 111.75 L391.00 111.75 L391.50 111.74 L392.00 111.74 L392.50 111.73 L393.00 111.73 L393.50 111.72 L394.00 111.72 L394.50 111.72 L395.00 111.71 L395.50 111.71 L396.00 111.70 L396.50 111.70 L397.00 111.70 L397.50 111.69 L398.00 111.69 L398.50 111.68 L399.00 111.68 L399.50 111.68 L400.00 111.67 L400.50 111.67 L401.00 111.66 L401.50 111.66 L402.00 111.66 L402.50 111.65 L403.00 111.65 L403.50 111.65 L404.00 111.64 L404.50 111.64 L405.00 111.63 L405.50 111.63 L406.00 111.63 L406.50 111.62 L407.00 111.62 L407.50 111.62 L408.00 111.61 L408.50 111.61 L409.00 111.61 L409.50 111.60 L410.00 111.60 L410.50 111.60" stroke="#008000"/>
<path d="M49.00 111.63 L49.50 111.63 L50.00 111.64 L50.50 111.64 L51.00 111.64 L51.50 111.65 L52.00 111.65 L52.50 111.65 L53.00 111.66 L53.50 111.66 L54.00 111.66 L54.50 111.67 L55.00 111.67 L55.50 111.68 L56.00 111.68 L56.50 111.68 L57.00 111.69 L57.50 111.69 L58.00 111.69 L58.50 111.70 L59.00 111.70 L59.50 111.71 L60.00 111.71 L60.50 111.71 L61.00 111.72 L61.50 111.72 L62.00 111.73 L62.50 111.73 L63.00 111.73 L63.50 111.74 L64.00 111.74 L64.50 111.75 L65.00 111.75 L65.50 111.76 L66.00 111.76 L66.50 111.76 L67.00 111.77 L67.50 111.77 L68.00 111.78 L68.50 111.78 L69.00 111.79 L69.50 111.79 L70.00 111.80 L70.50 111.80 L71.00 111.81 L71.50 111.81 L72.00 111.82 L72.50 111.82 L73.00 111.83 L73.50 111.83 L74.00 111.84 L74.50 111.84 L75.00 111.85 L75.50 111.85 L76.00 111.86 L76.50 111.86 L77.00 111.87 L77.50 111.88 L78.00 111.88 L78.50 111.89 L79.00 111.89 L79.50 111.90 L80.00 111.90 L80.50 111.91 L81.00 111.92 L81.50 111.92 L82.00 111.93 L82.50 111.94 L83.00 111.94 L83.50 111.95 L84.00 111.95 L84.50 111.96 L85.00 111.97 L85.50 111.97 L86.00 111.98 L86.50 111.99 L87.00 111.99 L87.50 112.00 L88.00 112.01 L88.50 112.02 L89.00 112.02 L89.50 112.03 L90.00 112.04 L90.50 112.04 L91.00 112.05 L91.50 112.06 L92.00 112.07 L92.50 112.08 L93.00 112.08 L93.50 112.09 L94.00 112.10 L94.50 112.11 L95.00 112.12 L95.50 112.12 L96.00 112.13 L96.50 112.14 L97.00 112.15 L97.50 112.16 L98.00 112.17 L98.50 112.18 L99.00 112.18 L99.50 112.19 L100.00 112.20 L100.50 112.21 L101.00 112.22 L101.50 112.23 L102.00 112.24 L102.50 112.25 L103.00 112.26 L103.50 112.27 L104.00 112.28 L104.50 112.29 L105.00 112.30 L105.50 112.31 L106.00 112.32 L106.50 112.33 L107.00 112.35 L107.50 112.36 L108.00 112.37 L108.50 112.38 L109.00 112.39 L109.50 112.40 L110.00 112.42 L110.50 112.43 L111.00 112.44 L111.50 112.45 L112.00 112.46 L112.50 112.48 L113.00 112.49 L113.50 112.50 L114.00 112.52 L114.50 112.53 L115.00 112.54 L115.50 112.56 L116.00 112.57 L116.50 112.59 L117.00 112.60 L117.50 112.62 L118.00 112.63 L118.50 112.65 L119.00 112.66 L119.50 112.68 L120.00 112.69 L120.50 112.71 L121.00 112.72 L121.50 112.74 L122.00 112.76 L122.50 112.77 L123.00 112.79 L123.50 112.81 L124.00 112.83 L124.50 112.85 L125.00 112.86 L125.50 112.88 L126.00 112.90 L126.50 112.92 L127.00 112.94 L127.50 112.96 L128.00 112.98 L128.50 113.00 L129.00 113.02 L129.50 113.04 L130.00 113.06 L130.50 113.08 L131.00 113.11 L131.50 113.13 L132.00 113.15 L132.50 113.18 L133.00 113.20 L133.50 113.22 L134.00 113.25 L134.50 113.27 L135.00 113.30 L135.50 113.32 L136.00 113.35 L136.50 113.38 L137.00 113.40 L137.50 113.43 L138.00 113.46 L138.50 113.49 L139.00 113.52 L139.50 113.55 L140.00 113.58 L140.50 113.61 L141.00 113.64 L141.50 113.67 L142.00 113.70 L142.50 113.74 L143.00 113.77 L143.50 113.80 L144.00 113.84 L144.50 113.87 L145.00 113.91 L145.50 113.95 L146.00 113.99 L146.50 114.03 L147.00 114.06 L147.50 114.11 L148.00 114.15 L148.50 114.19 L149.00 114.23 L149.50 114.28 L150.00 114.32 L150.50 114.37 L151.00 114.41 L151.50 114.46 L152.00 114.51 L152.50 114.56 L153.00 114.61 L153.50 114.66 L154.00 114.72 L154.50 114.77 L155.00 114.83 L155.50 114.89 L156.00 114.94 L156.50 115.00 L157.00 115.07 L157.50 115.13 L158.00 115.20 L158.50 115.26 L159.00 115.33 L159.50 115.40 L160.00 115.47 L160.50 115.55 L161.00 115.62 L161.50 115.70 L162.00 115.78 L162.50 115.86 L163.00 115.95 L163.50 116.04 L164.00 116.13 L164.50 116.22 L165.00 116.31 L165.50 116.41 L166.00 116.51 L166.50 116.62 L167.00 116.72 L167.50 116.84 L168.00 116.95 L168.50 117.07 L169.00 117.19 L169.50 117.32 L170.00 117.45 L170.50 117.58 L171.00 117.72 L171.50 117.87 L172.00 118.02 L172.50 118.17 L173.00 118.33 L173.50 118.50 L174.00 118.68 L174.50 118.86 L175.00 119.04 L175.50 119.24 L176.00 119.44 L176.50 119.65 L177.00 119.87 L177.50 120.10 L178.00 120.33 L178.50 120.58 L179.00 120.84 L179.50 121.11 L180.00 121.39 L180.50 121.68 L181.00 121.99 L181.50 122.30 L182.00 122.64 L182.50 122.99 L183.00 123.35 L183.50 123.73 L184.00 124.12 L184.50 124.54 L185.00 124.97 L185.50 125.42 L186.00 125.89 L186.50 126.38 L187.00 126.89 L187.50 127.43 L188.00 127.99 L188.50 128.57 L189.00 129.17 L189.50 129.80 L190.00 130.45 L190.50 131.12 L191.00 131.82 L191.50 132.55 L192.00 133.30 L192.50 134.07 L193.00 134.86 L193.50 135.67 L194.00 136.51 L194.50 137.36 L195.00 138.23 L195.50 139.12 L196.00 140.01 L196.50 140.92 L197.00 141.83 L197.50 142.76 L198.00 143.68 L198.50 144.60 L199.00 145.52 L199.50 146.43 L200.00 147.34 L200.50 148.23 L201.00 149.11 L201.50 149.97 L202.00 150.81 L202.50 151.64 L203.00 152.44 L203.50 153.22 L204.00 153.97 L204.50 154.70 L205.00 155.41 L205.50 156.09 L206.00 156.75 L206.50 157.38 L207.00 157.99 L207.50 158.58 L208.00 159.14 L208.50 159.68 L209.00 160.20 L209.50 160.70 L210.00 161.19 L210.50 161.65 L211.00 162.10 L211.50 162.53 L212.00 162.95 L212.50 163.35 L213.00 163.74 L213.50 164.12 L214.00 164.48 L214.50 164.83 L215.00 165.17 L215.50 165.50 L216.00 165.82 L216.50 166.13 L217.00 166.42 L217.50 166.71 L218.00 166.98 L218.50 167.25 L219.00 167.50 L219.50 167.74 L220.00 167.97 L220.50 168.19 L221.00 168.40 L221.50 168.59 L222.00 168.78 L222.50 168.95 L223.00 169.11 L223.50 169.25 L224.00 169.39 L224.50 169.51 L225.00 169.62 L225.50 169.71 L226.00 169.80 L226.50 169.87 L227.00 169.93 L227.50 169.98 L228.00 170.02 L228.50 170.04 L229.00 170.06 L229.50 170.07 L230.00 170.07 L230.50 170.06 L231.00 170.05 L231.50 170.02 L232.00 169.99 L232.50 169.94 L233.00 169.88 L233.50 169.81 L234.00 169.73 L234.50 169.64 L235.00 169.53 L235.50 169.41 L236.00 169.28 L236.50 169.14 L237.00 168.98 L237.50 168.81 L238.00 168.63 L238.50 168.44 L239.00 168.23 L239.50 168.02 L240.00 167.79 L240.50 167.55 L241.00 167.30 L241.50 167.04 L242.00 166.76 L242.50 166.48 L243.00 166.19 L243.50 165.88 L244.00 165.57 L244.50 165.24 L245.00 164.90 L245.50 164.55 L246.00 164.19 L246.50 163.82 L247.00 163.43 L247.50 163.03 L248.00 162.62 L248.50 162.19 L249.00 161.74 L249.50 161.28 L250.00 160.80 L250.50 160.30 L251.00 159.79 L251.50 159.25 L252.00 158.69 L252.50 158.11 L253.00 157.51 L253.50 156.88 L254.00 156.23 L254.50 155.55 L255.00 154.85 L255.50 154.12 L256.00 153.37 L256.50 152.60 L257.00 151.80 L257.50 150.98 L258.00 150.14 L258.50 149.28 L259.00 148.41 L259.50 147.52 L260.00 146.61 L260.50 145.70 L261.00 144.78 L261.50 143.86 L262.00 142.94 L262.50 142.02 L263.00 141.10 L263.50 140.19 L264.00 139.29 L264.50 138.41 L265.00 137.53 L265.50 136.68 L266.00 135.84 L266.50 135.02 L267.00 134.22 L267.50 133.45 L268.00 132.70 L268.50 131.97 L269.00 131.26 L269.50 130.58 L270.00 129.93 L270.50 129.29 L271.00 128.68 L271.50 128.10 L272.00 127.54 L272.50 127.00 L273.00 126.48 L273.50 125.99 L274.00 125.51 L274.50 125.06 L275.00 124.62 L275.50 124.20 L276.00 123.80 L276.50 123.42 L277.00 123.06 L277.50 122.71 L278.00 122.37 L278.50 122.05 L279.00 121.74 L279.50 121.45 L280.00 121.16 L280.50 120.89 L281.00 120.63 L281.50 120.38 L282.00 120.14 L282.50 119.91 L283.00 119.69 L283.50 119.48 L284.00 119.28 L284.50 119.08 L285.00 118.89 L285.50 118.71 L286.00 118.54 L286.50 118.37 L287.00 118.21 L287.50 118.05 L288.00 117.90 L288.50 117.75 L289.00 117.61 L289.50 117.47 L290.00 117.34 L290.50 117.22 L291.00 117.09 L291.50 116.97 L292.00 116.86 L292.50 116.75 L293.00 116.64 L293.50 116.53 L294.00 116.43 L294.50 116.33 L295.00 116.24 L295.50 116.14 L296.00 116.05 L296.50 115.97 L297.00 115.88 L297.50 115.80 L298.00 115.72 L298.50 115.64 L299.00 115.56 L299.50 115.49 L300.00 115.41 L300.50 115.34 L301.00 115.28 L301.50 115.21 L302.00 115.14 L302.50 115.08 L303.00 115.02 L303.50 114.96 L304.00 114.90 L304.50 114.84 L305.00 114.78 L305.50 114.73 L306.00 114.67 L306.50 114.62 L307.00 114.57 L307.50 114.52 L308.00 114.47 L308.50 114.42 L309.00 114.38 L309.50 114.33 L310.00 114.28 L310.50 114.24 L311.00 114.20 L311.50 114.15 L312.00 114.11 L312.50 114.07 L313.00 114.03 L313.50 113.99 L314.00 113.96 L314.50 113.92 L315.00 113.88 L315.50 113.85 L316.00 113.81 L316.50 113.78 L317.00 113.74 L317.50 113.71 L318.00 113.68 L318.50 113.64 L319.00 113.61 L319.50 113.58 L320.00 113.55 L320.50 113.52 L321.00 113.49 L321.50 113.46 L322.00 113.44 L322.50 113.41 L323.00 113.38 L323.50 113.35 L324.00 113.33 L324.50 113.30 L325.00 113.28 L325.50 113.25 L326.00 113.23 L326.50 113.20 L327.00 113.18 L327.50 113.16 L328.00 113.13 L328.50 113.11 L329.00 113.09 L329.50 113.07 L330.00 113.05 L330.50 113.02 L331.00 113.00 L331.50 112.98 L332.00 112.96 L332.50 112.94 L333.00 112.92 L333.50 112.90 L334.00 112.89 L334.50 112.87 L335.00 112.85 L335.50 112.83 L336.00 112.81 L336.50 112.80 L337.00 112.78 L337.50 112.76 L338.00 112.74 L338.50 112.73 L339.00 112.71 L339.50 112.70 L340.00 112.68 L340.50 112.66 L341.00 112.65 L341.50 112.63 L342.00 112.62 L342.50 112.60 L343.00 112.59 L343.50 112.58 L344.00 112.56 L344.50 112.55 L345.00 112.53 L345.50 112.52 L346.00 112.51 L346.50 112.49 L347.00 112.48 L347.50 112.47 L348.00 112.45 L348.50 112.44 L349.00 112.43 L349.50 112.42 L350.00 112.41 L350.50 112.39 L351.00 112.38 L351.50 112.37 L352.00 112.36 L352.50 112.35 L353.00 112.34 L353.50 112.33 L354.00 112.32 L354.50 112.30 L355.00 112.29 L355.50 112.28 L356.00 112.27 L356.50 112.26 L357.00 112.25 L357.50 112.24 L358.00 112.23 L358.50 112.22 L359.00 112.21 L359.50 112.21 L360.00 112.20 L360.50 112.19 L361.00 112.18 L361.50 112.17 L362.00 112.16 L362.50 112.15 L363.00 112.14 L363.50 112.13 L364.00 112.13 L364.50 112.12 L365.00 112.11 L365.50 112.10 L366.00 112.09 L366.50 112.08 L367.00 112.08 L367.50 112.07 L368.00 112.06 L368.50 112.05 L369.00 112.05 L369.50 112.04 L370.00 112.03 L370.50 112.02 L371.00 112.02 L371.50 112.01 L372.00 112.00 L372.50 112.00 L373.00 111.99 L373.50 111.98 L374.00 111.98 L374.50 111.97 L375.00 111.96 L375.50 111.96 L376.00 111.95 L376.50 111.94 L377.00 111.94 L377.50 111.93 L378.00 111.92 L378.50 111.92 L379.00 111.91 L379.50 111.91 L380.00 111.90 L380.50 111.89 L381.00 111.89 L381.50 111.88 L382.00 111.88 L382.50 111.87 L383.00 111.87 L383.50 111.86 L384.00 111.85 L384.50 111.85 L385.00 111.84 L385.50 111.84 L386.00 111.83 L386.50 111.83 L387.00 111.82 L387.50 111.82 L388.00 111.81 L388.50 111.81 L389.00 111.80 L389.50 111.80 L390.00 111.79 L390.50 111.79 L391.00 111.78 L391.50 111.78 L392.00 111.77 L392.50 111.77 L393.00 111.77 L393.50 111.76 L394.00 111.76 L394.50 111.75 L395.00 111.75 L395.50 111.74 L396.00 111.74 L396.50 111.74 L397.00 111.73 L397.50 111.73 L398.00 111.72 L398.50 111.72 L399.00 111.71 L399.50 111.71 L400.00 111.71 L400.50 111.70 L401.00 111.70 L401.50 111.69 L402.00 111.69 L402.50 111.69 L403.00 111.68 L403.50 111.68 L404.00 111.68 L404.50 111.67 L405.00 111.67 L405.50 111.67 L406.00 111.66 L406.50 111.66 L407.00 111.65 L407.50 111.65 L408.00 111.65 L408.50 111.64 L409.00 111.64 L409.50 111.64 L410.00 111.63 L410.50 111.63" stroke="#0000ff" stroke-dasharray="4.6 4.6" stroke-dashoffset="3.0"/>
<path d="M49.00 111.52 L49.50 111.52 L50.00 111.52 L50.50 111.53 L51.00 111.53 L51.50 111.53 L52.00 111.53 L52.50 111.54 L53.00 111.54 L53.50 111.54 L54.00 111.54 L54.50 111.55 L55.00 111.55 L55.50 111.55 L56.00 111.56 L56.50 111.56 L57.00 111.56 L57.50 111.57 L58.00 111.57 L58.50 111.57 L59.00 111.58 L59.50 111.58 L60.00 111.58 L60.50 111.59 L61.00 111.59 L61.50 111.59 L62.00 111.60 L62.50 111.60 L63.00 111.60 L63.50 111.61 L64.00 111.61 L64.50 111.61 L65.00 111.62 L65.50 111.62 L66.00 111.62 L66.50 111.63 L67.00 111.63 L67.50 111.64 L68.00 111.64 L68.50 111.64 L69.00 111.65 L69.50 111.65 L70.00 111.66 L70.50 111.66 L71.00 111.66 L71.50 111.67 L72.00 111.67 L72.50 111.68 L73.00 111.68 L73.50 111.68 L74.00 111.69 L74.50 111.69 L75.00 111.70 L75.50 111.70 L76.00 111.71 L76.50 111.71 L77.00 111.72 L77.50 111.72 L78.00 111.73 L78.50 111.73 L79.00 111.74 L79.50 111.74 L80.00 111.75 L80.50 111.75 L81.00 111.76 L81.50 111.76 L82.00 111.77 L82.50 111.77 L83.00 111.78 L83.50 111.78 L84.00 111.79 L84.50 111.79 L85.00 111.80 L85.50 111.81 L86.00 111.81 L86.50 111.82 L87.00 111.82 L87.50 111.83 L88.00 111.84 L88.50 111.84 L89.00 111.85 L89.50 111.86 L90.00 111.86 L90.50 111.87 L91.00 111.88 L91.50 111.88 L92.00 111.89 L92.50 111.90 L93.00 111.90 L93.50 111.91 L94.00 111.92 L94.50 111.92 L95.00 111.93 L95.50 111.94 L96.00 111.95 L96.50 111.95 L97.00 111.96 L97.50 111.97 L98.00 111.98 L98.50 111.99 L99.00 111.99 L99.50 112.00 L100.00 112.01 L100.50 112.02 L101.00 112.03 L101.50 112.04 L102.00 112.05 L102.50 112.06 L103.00 112.06 L103.50 112.07 L104.00 112.08 L104.50 112.09 L105.00 112.10 L105.50 112.11 L106.00 112.12 L106.50 112.13 L107.00 112.14 L107.50 112.15 L108.00 112.16 L108.50 112.17 L109.00 112.19 L109.50 112.20 L110.00 112.21 L110.50 112.22 L111.00 112.23 L111.50 112.24 L112.00 112.25 L112.50 112.27 L113.00 112.28 L113.50 112.29 L114.00 112.30 L114.50 112.32 L115.00 112.33 L115.50 112.34 L116.00 112.36 L116.50 112.37 L117.00 112.39 L117.50 112.40 L118.00 112.41 L118.50 112.43 L119.00 112.44 L119.50 112.46 L120.00 112.47 L120.50 112.49 L121.00 112.51 L121.50 112.52 L122.00 112.54 L122.50 112.56 L123.00 112.57 L123.50 112.59 L124.00 112.61 L124.50 112.62 L125.00 112.64 L125.50 112.66 L126.00 112.68 L126.50 112.70 L127.00 112.72 L127.50 112.74 L128.00 112.76 L128.50 112.78 L129.00 112.80 L129.50 112.82 L130.00 112.84 L130.50 112.87 L131.00 112.89 L131.50 112.91 L132.00 112.93 L132.50 112.96 L133.00 112.98 L133.50 113.01 L134.00 113.03 L134.50 113.06 L135.00 113.08 L135.50 113.11 L136.00 113.14 L136.50 113.17 L137.00 113.19 L137.50 113.22 L138.00 113.25 L138.50 113.28 L139.00 113.31 L139.50 113.34 L140.00 113.37 L140.50 113.41 L141.00 113.44 L141.50 113.47 L142.00 113.51 L142.50 113.54 L143.00 113.58 L143.50 113.61 L144.00 113.65 L144.50 113.69 L145.00 113.73 L145.50 113.77 L146.00 113.81 L146.50 113.85 L147.00 113.89 L147.50 113.94 L148.00 113.98 L148.50 114.02 L149.00 114.07 L149.50 114.12 L150.00 114.17 L150.50 114.21 L151.00 114.26 L151.50 114.32 L152.00 114.37 L152.50 114.42 L153.00 114.48 L153.50 114.53 L154.00 114.59 L154.50 114.65 L155.00 114.71 L155.50 114.77 L156.00 114.83 L156.50 114.90 L157.00 114.97 L157.50 115.03 L158.00 115.10 L158.50 115.17 L159.00 115.25 L159.50 115.32 L160.00 115.40 L160.50 115.48 L161.00 115.56 L161.50 115.64 L162.00 115.72 L162.50 115.81 L163.00 115.90 L163.50 115.99 L164.00 116.08 L164.50 116.18 L165.00 116.28 L165.50 116.38 L166.00 116.48 L166.50 116.59 L167.00 116.70 L167.50 116.81 L168.00 116.92 L168.50 117.04 L169.00 117.16 L169.50 117.29 L170.00 117.41 L170.50 117.55 L171.00 117.68 L171.50 117.82 L172.00 117.96 L172.50 118.11 L173.00 118.26 L173.50 118.42 L174.00 118.57 L174.50 118.74 L175.00 118.91 L175.50 119.08 L176.00 119.26 L176.50 119.44 L177.00 119.63 L177.50 119.83 L178.00 120.03 L178.50 120.23 L179.00 120.44 L179.50 120.66 L180.00 120.89 L180.50 121.12 L181.00 121.35 L181.50 121.60 L182.00 121.85 L182.50 122.11 L183.00 122.38 L183.50 122.65 L184.00 122.94 L184.50 123.23 L185.00 123.53 L185.50 123.84 L186.00 124.16 L186.50 124.48 L187.00 124.82 L187.50 125.17 L188.00 125.53 L188.50 125.90 L189.00 126.27 L189.50 126.66 L190.00 127.07 L190.50 127.48 L191.00 127.90 L191.50 128.34 L192.00 128.79 L192.50 129.25 L193.00 129.72 L193.50 130.21 L194.00 130.71 L194.50 131.22 L195.00 131.75 L195.50 132.28 L196.00 132.84 L196.50 133.40 L197.00 133.98 L197.50 134.58 L198.00 135.18 L198.50 135.80 L199.00 136.43 L199.50 137.08 L200.00 137.74 L200.50 138.41 L201.00 139.09 L201.50 139.79 L202.00 140.50 L202.50 141.21 L203.00 141.94 L203.50 142.67 L204.00 143.42 L204.50 144.17 L205.00 144.93 L205.50 145.70 L206.00 146.46 L206.50 147.24 L207.00 148.01 L207.50 148.79 L208.00 149.57 L208.50 150.34 L209.00 151.11 L209.50 151.88 L210.00 152.65 L210.50 153.40 L211.00 154.15 L211.50 154.89 L212.00 155.62 L212.50 156.33 L213.00 157.03 L213.50 157.72 L214.00 158.39 L214.50 159.05 L215.00 159.69 L215.50 160.31 L216.00 160.91 L216.50 161.49 L217.00 162.05 L217.50 162.59 L218.00 163.11 L218.50 163.61 L219.00 164.09 L219.50 164.55 L220.00 164.99 L220.50 165.41 L221.00 165.81 L221.50 166.19 L222.00 166.55 L222.50 166.90 L223.00 167.23 L223.50 167.54 L224.00 167.84 L224.50 168.12 L225.00 168.39 L225.50 168.64 L226.00 168.88 L226.50 169.11 L227.00 169.31 L227.50 169.50 L228.00 169.68 L228.50 169.83 L229.00 169.95 L229.50 170.04 L230.00 170.05 L230.50 169.97 L231.00 169.85 L231.50 169.71 L232.00 169.54 L232.50 169.35 L233.00 169.15 L233.50 168.93 L234.00 168.69 L234.50 168.44 L235.00 168.18 L235.50 167.90 L236.00 167.60 L236.50 167.29 L237.00 166.97 L237.50 166.62 L238.00 166.26 L238.50 165.88 L239.00 165.49 L239.50 165.07 L240.00 164.64 L240.50 164.18 L241.00 163.71 L241.50 163.21 L242.00 162.69 L242.50 162.16 L243.00 161.60 L243.50 161.02 L244.00 160.43 L244.50 159.81 L245.00 159.18 L245.50 158.53 L246.00 157.86 L246.50 157.17 L247.00 156.47 L247.50 155.76 L248.00 155.04 L248.50 154.30 L249.00 153.55 L249.50 152.80 L250.00 152.04 L250.50 151.27 L251.00 150.50 L251.50 149.72 L252.00 148.95 L252.50 148.17 L253.00 147.39 L253.50 146.62 L254.00 145.85 L254.50 145.08 L255.00 144.32 L255.50 143.57 L256.00 142.82 L256.50 142.09 L257.00 141.36 L257.50 140.64 L258.00 139.93 L258.50 139.23 L259.00 138.55 L259.50 137.87 L260.00 137.21 L260.50 136.56 L261.00 135.93 L261.50 135.31 L262.00 134.70 L262.50 134.10 L263.00 133.52 L263.50 132.95 L264.00 132.39 L264.50 131.85 L265.00 131.32 L265.50 130.81 L266.00 130.31 L266.50 129.82 L267.00 129.34 L267.50 128.88 L268.00 128.43 L268.50 127.99 L269.00 127.56 L269.50 127.15 L270.00 126.74 L270.50 126.35 L271.00 125.97 L271.50 125.60 L272.00 125.24 L272.50 124.89 L273.00 124.55 L273.50 124.22 L274.00 123.90 L274.50 123.59 L275.00 123.29 L275.50 122.99 L276.00 122.71 L276.50 122.43 L277.00 122.16 L277.50 121.90 L278.00 121.65 L278.50 121.40 L279.00 121.16 L279.50 120.93 L280.00 120.71 L280.50 120.49 L281.00 120.27 L281.50 120.07 L282.00 119.86 L282.50 119.67 L283.00 119.48 L283.50 119.30 L284.00 119.12 L284.50 118.94 L285.00 118.77 L285.50 118.61 L286.00 118.45 L286.50 118.29 L287.00 118.14 L287.50 117.99 L288.00 117.85 L288.50 117.71 L289.00 117.57 L289.50 117.44 L290.00 117.31 L290.50 117.19 L291.00 117.07 L291.50 116.95 L292.00 116.83 L292.50 116.72 L293.00 116.61 L293.50 116.50 L294.00 116.40 L294.50 116.30 L295.00 116.20 L295.50 116.10 L296.00 116.01 L296.50 115.92 L297.00 115.83 L297.50 115.74 L298.00 115.66 L298.50 115.57 L299.00 115.49 L299.50 115.41 L300.00 115.34 L300.50 115.26 L301.00 115.19 L301.50 115.12 L302.00 115.05 L302.50 114.98 L303.00 114.91 L303.50 114.85 L304.00 114.78 L304.50 114.72 L305.00 114.66 L305.50 114.60 L306.00 114.54 L306.50 114.49 L307.00 114.43 L307.50 114.38 L308.00 114.33 L308.50 114.27 L309.00 114.22 L309.50 114.18 L310.00 114.13 L310.50 114.08 L311.00 114.03 L311.50 113.99 L312.00 113.94 L312.50 113.90 L313.00 113.86 L313.50 113.82 L314.00 113.78 L314.50 113.74 L315.00 113.70 L315.50 113.66 L316.00 113.62 L316.50 113.59 L317.00 113.55 L317.50 113.51 L318.00 113.48 L318.50 113.45 L319.00 113.41 L319.50 113.38 L320.00 113.35 L320.50 113.32 L321.00 113.29 L321.50 113.26 L322.00 113.23 L322.50 113.20 L323.00 113.17 L323.50 113.14 L324.00 113.12 L324.50 113.09 L325.00 113.06 L325.50 113.04 L326.00 113.01 L326.50 112.99 L327.00 112.96 L327.50 112.94 L328.00 112.92 L328.50 112.89 L329.00 112.87 L329.50 112.85 L330.00 112.83 L330.50 112.80 L331.00 112.78 L331.50 112.76 L332.00 112.74 L332.50 112.72 L333.00 112.70 L333.50 112.68 L334.00 112.67 L334.50 112.65 L335.00 112.63 L335.50 112.61 L336.00 112.59 L336.50 112.58 L337.00 112.56 L337.50 112.54 L338.00 112.53 L338.50 112.51 L339.00 112.49 L339.50 112.48 L340.00 112.46 L340.50 112.45 L341.00 112.43 L341.50 112.42 L342.00 112.40 L342.50 112.39 L343.00 112.37 L343.50 112.36 L344.00 112.35 L344.50 112.33 L345.00 112.32 L345.50 112.31 L346.00 112.29 L346.50 112.28 L347.00 112.27 L347.50 112.26 L348.00 112.25 L348.50 112.23 L349.00 112.22 L349.50 112.21 L350.00 112.20 L350.50 112.19 L351.00 112.18 L351.50 112.17 L352.00 112.16 L352.50 112.14 L353.00 112.13 L353.50 112.12 L354.00 112.11 L354.50 112.10 L355.00 112.09 L355.50 112.09 L356.00 112.08 L356.50 112.07 L357.00 112.06 L357.50 112.05 L358.00 112.04 L358.50 112.03 L359.00 112.02 L359.50 112.01 L360.00 112.00 L360.50 112.00 L361.00 111.99 L361.50 111.98 L362.00 111.97 L362.50 111.96 L363.00 111.96 L363.50 111.95 L364.00 111.94 L364.50 111.93 L365.00 111.93 L365.50 111.92 L366.00 111.91 L366.50 111.90 L367.00 111.90 L367.50 111.89 L368.00 111.88 L368.50 111.88 L369.00 111.87 L369.50 111.86 L370.00 111.86 L370.50 111.85 L371.00 111.84 L371.50 111.84 L372.00 111.83 L372.50 111.83 L373.00 111.82 L373.50 111.81 L374.00 111.81 L374.50 111.80 L375.00 111.80 L375.50 111.79 L376.00 111.78 L376.50 111.78 L377.00 111.77 L377.50 111.77 L378.00 111.76 L378.50 111.76 L379.00 111.75 L379.50 111.75 L380.00 111.74 L380.50 111.74 L381.00 111.73 L381.50 111.73 L382.00 111.72 L382.50 111.72 L383.00 111.71 L383.50 111.71 L384.00 111.70 L384.50 111.70 L385.00 111.69 L385.50 111.69 L386.00 111.69 L386.50 111.68 L387.00 111.68 L387.50 111.67 L388.00 111.67 L388.50 111.66 L389.00 111.66 L389.50 111.66 L390.00 111.65 L390.50 111.65 L391.00 111.64 L391.50 111.64 L392.00 111.64 L392.50 111.63 L393.00 111.63 L393.50 111.62 L394.00 111.62 L394.50 111.62 L395.00 111.61 L395.50 111.61 L396.00 111.61 L396.50 111.60 L397.00 111.60 L397.50 111.60 L398.00 111.59 L398.50 111.59 L399.00 111.59 L399.50 111.58 L400.00 111.58 L400.50 111.58 L401.00 111.57 L401.50 111.57 L402.00 111.57 L402.50 111.56 L403.00 111.56 L403.50 111.56 L404.00 111.55 L404.50 111.55 L405.00 111.55 L405.50 111.55 L406.00 111.54 L406.50 111.54 L407.00 111.54 L407.50 111.53 L408.00 111.53 L408.50 111.53 L409.00 111.53 L409.50 111.52 L410.00 111.52 L410.50 111.52" stroke="#ff0000" stroke-dasharray="1.0 2.08"/>
</g>
<path d="M49.0 195.34h3.1M410.5 195.34h-3.1M49.0 178.49h3.1M410.5 178.49h-3.1M49.0 161.64h3.1M410.5 161.64h-3.1M49.0 144.79h3.1M410.5 144.79h-3.1M49.0 127.94h3.1M410.5 127.94h-3.1M49.0 111.09h3.1M410.5 111.09h-3.1M121.10 102.67v3.1M121.10 195.34v-3.1M193.40 102.67v3.1M193.40 195.34v-3.1M265.70 102.67v3.1M265.70 195.34v-3.1M338.00 102.67v3.1M338.00 195.34v-3.1" stroke="#000" stroke-width="0.45" fill="none"/>
<rect x="49.0" y="102.67" width="361.5" height="92.67" fill="none" stroke="#000" stroke-width="1.1"/>
<text class="yt" x="44.2" y="199.14">0.000</text>
<text class="yt" x="44.2" y="182.29">0.002</text>
<text class="yt" x="44.2" y="165.44">0.004</text>
<text class="yt" x="44.2" y="148.59">0.006</text>
<text class="yt" x="44.2" y="131.74">0.008</text>
<text class="yt" x="44.2" y="114.89">0.010</text>
<clipPath id="cc"><rect x="49.0" y="195.33" width="361.5" height="92.67"/></clipPath>
<g clip-path="url(#cc)" fill="none" stroke-width="1.1">
<path d="M49.00 203.87 L49.50 203.87 L50.00 203.87 L50.50 203.87 L51.00 203.87 L51.50 203.87 L52.00 203.87 L52.50 203.87 L53.00 203.88 L53.50 203.88 L54.00 203.88 L54.50 203.88 L55.00 203.88 L55.50 203.88 L56.00 203.88 L56.50 203.88 L57.00 203.88 L57.50 203.89 L58.00 203.89 L58.50 203.89 L59.00 203.89 L59.50 203.89 L60.00 203.89 L60.50 203.89 L61.00 203.89 L61.50 203.90 L62.00 203.90 L62.50 203.90 L63.00 203.90 L63.50 203.90 L64.00 203.90 L64.50 203.90 L65.00 203.90 L65.50 203.91 L66.00 203.91 L66.50 203.91 L67.00 203.91 L67.50 203.91 L68.00 203.91 L68.50 203.92 L69.00 203.92 L69.50 203.92 L70.00 203.92 L70.50 203.92 L71.00 203.92 L71.50 203.92 L72.00 203.93 L72.50 203.93 L73.00 203.93 L73.50 203.93 L74.00 203.93 L74.50 203.94 L75.00 203.94 L75.50 203.94 L76.00 203.94 L76.50 203.94 L77.00 203.94 L77.50 203.95 L78.00 203.95 L78.50 203.95 L79.00 203.95 L79.50 203.95 L80.00 203.96 L80.50 203.96 L81.00 203.96 L81.50 203.96 L82.00 203.97 L82.50 203.97 L83.00 203.97 L83.50 203.97 L84.00 203.97 L84.50 203.98 L85.00 203.98 L85.50 203.98 L86.00 203.98 L86.50 203.99 L87.00 203.99 L87.50 203.99 L88.00 203.99 L88.50 204.00 L89.00 204.00 L89.50 204.00 L90.00 204.01 L90.50 204.01 L91.00 204.01 L91.50 204.01 L92.00 204.02 L92.50 204.02 L93.00 204.02 L93.50 204.03 L94.00 204.03 L94.50 204.03 L95.00 204.04 L95.50 204.04 L96.00 204.04 L96.50 204.05 L97.00 204.05 L97.50 204.05 L98.00 204.06 L98.50 204.06 L99.00 204.06 L99.50 204.07 L100.00 204.07 L100.50 204.07 L101.00 204.08 L101.50 204.08 L102.00 204.09 L102.50 204.09 L103.00 204.09 L103.50 204.10 L104.00 204.10 L104.50 204.11 L105.00 204.11 L105.50 204.12 L106.00 204.12 L106.50 204.13 L107.00 204.13 L107.50 204.13 L108.00 204.14 L108.50 204.14 L109.00 204.15 L109.50 204.15 L110.00 204.16 L110.50 204.17 L111.00 204.17 L111.50 204.18 L112.00 204.18 L112.50 204.19 L113.00 204.19 L113.50 204.20 L114.00 204.21 L114.50 204.21 L115.00 204.22 L115.50 204.22 L116.00 204.23 L116.50 204.24 L117.00 204.24 L117.50 204.25 L118.00 204.26 L118.50 204.26 L119.00 204.27 L119.50 204.28 L120.00 204.29 L120.50 204.29 L121.00 204.30 L121.50 204.31 L122.00 204.32 L122.50 204.33 L123.00 204.33 L123.50 204.34 L124.00 204.35 L124.50 204.36 L125.00 204.37 L125.50 204.38 L126.00 204.39 L126.50 204.40 L127.00 204.41 L127.50 204.42 L128.00 204.43 L128.50 204.44 L129.00 204.45 L129.50 204.46 L130.00 204.47 L130.50 204.48 L131.00 204.49 L131.50 204.51 L132.00 204.52 L132.50 204.53 L133.00 204.54 L133.50 204.56 L134.00 204.57 L134.50 204.58 L135.00 204.60 L135.50 204.61 L136.00 204.62 L136.50 204.64 L137.00 204.65 L137.50 204.67 L138.00 204.68 L138.50 204.70 L139.00 204.72 L139.50 204.73 L140.00 204.75 L140.50 204.77 L141.00 204.79 L141.50 204.80 L142.00 204.82 L142.50 204.84 L143.00 204.86 L143.50 204.88 L144.00 204.90 L144.50 204.92 L145.00 204.94 L145.50 204.97 L146.00 204.99 L146.50 205.01 L147.00 205.04 L147.50 205.06 L148.00 205.09 L148.50 205.11 L149.00 205.14 L149.50 205.17 L150.00 205.19 L150.50 205.22 L151.00 205.25 L151.50 205.28 L152.00 205.31 L152.50 205.34 L153.00 205.38 L153.50 205.41 L154.00 205.45 L154.50 205.48 L155.00 205.52 L155.50 205.56 L156.00 205.59 L156.50 205.63 L157.00 205.67 L157.50 205.72 L158.00 205.76 L158.50 205.81 L159.00 205.85 L159.50 205.90 L160.00 205.95 L160.50 206.00 L161.00 206.05 L161.50 206.10 L162.00 206.16 L162.50 206.22 L163.00 206.28 L163.50 206.34 L164.00 206.40 L164.50 206.46 L165.00 206.53 L165.50 206.60 L166.00 206.67 L166.50 206.75 L167.00 206.83 L167.50 206.91 L168.00 206.99 L168.50 207.08 L169.00 207.16 L169.50 207.26 L170.00 207.35 L170.50 207.45 L171.00 207.56 L171.50 207.66 L172.00 207.77 L172.50 207.89 L173.00 208.01 L173.50 208.14 L174.00 208.27 L174.50 208.41 L175.00 208.55 L175.50 208.70 L176.00 208.85 L176.50 209.01 L177.00 209.18 L177.50 209.36 L178.00 209.55 L178.50 209.74 L179.00 209.94 L179.50 210.16 L180.00 210.38 L180.50 210.61 L181.00 210.86 L181.50 211.12 L182.00 211.39 L182.50 211.67 L183.00 211.97 L183.50 212.29 L184.00 212.62 L184.50 212.97 L185.00 213.34 L185.50 213.73 L186.00 214.14 L186.50 214.57 L187.00 215.03 L187.50 215.51 L188.00 216.02 L188.50 216.56 L189.00 217.12 L189.50 217.72 L190.00 218.34 L190.50 219.01 L191.00 219.70 L191.50 220.43 L192.00 221.20 L192.50 222.00 L193.00 222.84 L193.50 223.72 L194.00 224.63 L194.50 225.58 L195.00 226.57 L195.50 227.59 L196.00 228.64 L196.50 229.71 L197.00 230.81 L197.50 231.94 L198.00 233.08 L198.50 234.23 L199.00 235.39 L199.50 236.55 L200.00 237.71 L200.50 238.86 L201.00 240.00 L201.50 241.12 L202.00 242.22 L202.50 243.29 L203.00 244.34 L203.50 245.35 L204.00 246.33 L204.50 247.27 L205.00 248.18 L205.50 249.05 L206.00 249.88 L206.50 250.68 L207.00 251.44 L207.50 252.17 L208.00 252.86 L208.50 253.51 L209.00 254.14 L209.50 254.74 L210.00 255.30 L210.50 255.84 L211.00 256.35 L211.50 256.83 L212.00 257.29 L212.50 257.73 L213.00 258.14 L213.50 258.53 L214.00 258.90 L214.50 259.24 L215.00 259.57 L215.50 259.88 L216.00 260.16 L216.50 260.43 L217.00 260.68 L217.50 260.91 L218.00 261.12 L218.50 261.32 L219.00 261.50 L219.50 261.67 L220.00 261.82 L220.50 261.95 L221.00 262.07 L221.50 262.18 L222.00 262.28 L222.50 262.36 L223.00 262.43 L223.50 262.49 L224.00 262.55 L224.50 262.59 L225.00 262.63 L225.50 262.66 L226.00 262.68 L226.50 262.70 L227.00 262.71 L227.50 262.72 L228.00 262.72 L228.50 262.72 L229.00 262.73 L229.50 262.73 L230.00 262.73 L230.50 262.73 L231.00 262.73 L231.50 262.72 L232.00 262.72 L232.50 262.71 L233.00 262.70 L233.50 262.68 L234.00 262.66 L234.50 262.63 L235.00 262.60 L235.50 262.56 L236.00 262.50 L236.50 262.44 L237.00 262.37 L237.50 262.29 L238.00 262.20 L238.50 262.09 L239.00 261.98 L239.50 261.84 L240.00 261.70 L240.50 261.54 L241.00 261.36 L241.50 261.16 L242.00 260.95 L242.50 260.73 L243.00 260.48 L243.50 260.22 L244.00 259.93 L244.50 259.63 L245.00 259.31 L245.50 258.97 L246.00 258.60 L246.50 258.22 L247.00 257.81 L247.50 257.38 L248.00 256.93 L248.50 256.45 L249.00 255.94 L249.50 255.41 L250.00 254.85 L250.50 254.26 L251.00 253.64 L251.50 252.99 L252.00 252.31 L252.50 251.59 L253.00 250.84 L253.50 250.05 L254.00 249.22 L254.50 248.36 L255.00 247.46 L255.50 246.52 L256.00 245.55 L256.50 244.54 L257.00 243.50 L257.50 242.43 L258.00 241.34 L258.50 240.22 L259.00 239.09 L259.50 237.94 L260.00 236.78 L260.50 235.62 L261.00 234.46 L261.50 233.31 L262.00 232.16 L262.50 231.04 L263.00 229.93 L263.50 228.85 L264.00 227.79 L264.50 226.77 L265.00 225.78 L265.50 224.82 L266.00 223.90 L266.50 223.01 L267.00 222.17 L267.50 221.36 L268.00 220.58 L268.50 219.84 L269.00 219.14 L269.50 218.47 L270.00 217.84 L270.50 217.24 L271.00 216.67 L271.50 216.12 L272.00 215.61 L272.50 215.12 L273.00 214.66 L273.50 214.22 L274.00 213.81 L274.50 213.42 L275.00 213.04 L275.50 212.69 L276.00 212.35 L276.50 212.03 L277.00 211.73 L277.50 211.44 L278.00 211.17 L278.50 210.91 L279.00 210.66 L279.50 210.42 L280.00 210.20 L280.50 209.98 L281.00 209.78 L281.50 209.58 L282.00 209.40 L282.50 209.22 L283.00 209.05 L283.50 208.88 L284.00 208.73 L284.50 208.58 L285.00 208.43 L285.50 208.30 L286.00 208.16 L286.50 208.04 L287.00 207.91 L287.50 207.80 L288.00 207.69 L288.50 207.58 L289.00 207.47 L289.50 207.37 L290.00 207.28 L290.50 207.18 L291.00 207.09 L291.50 207.01 L292.00 206.92 L292.50 206.84 L293.00 206.76 L293.50 206.69 L294.00 206.62 L294.50 206.55 L295.00 206.48 L295.50 206.41 L296.00 206.35 L296.50 206.29 L297.00 206.23 L297.50 206.17 L298.00 206.11 L298.50 206.06 L299.00 206.01 L299.50 205.96 L300.00 205.91 L300.50 205.86 L301.00 205.81 L301.50 205.77 L302.00 205.73 L302.50 205.68 L303.00 205.64 L303.50 205.60 L304.00 205.56 L304.50 205.53 L305.00 205.49 L305.50 205.45 L306.00 205.42 L306.50 205.38 L307.00 205.35 L307.50 205.32 L308.00 205.29 L308.50 205.26 L309.00 205.23 L309.50 205.20 L310.00 205.17 L310.50 205.14 L311.00 205.12 L311.50 205.09 L312.00 205.07 L312.50 205.04 L313.00 205.02 L313.50 204.99 L314.00 204.97 L314.50 204.95 L315.00 204.93 L315.50 204.91 L316.00 204.89 L316.50 204.87 L317.00 204.85 L317.50 204.83 L318.00 204.81 L318.50 204.79 L319.00 204.77 L319.50 204.75 L320.00 204.74 L320.50 204.72 L321.00 204.70 L321.50 204.69 L322.00 204.67 L322.50 204.66 L323.00 204.64 L323.50 204.63 L324.00 204.61 L324.50 204.60 L325.00 204.58 L325.50 204.57 L326.00 204.56 L326.50 204.54 L327.00 204.53 L327.50 204.52 L328.00 204.51 L328.50 204.50 L329.00 204.48 L329.50 204.47 L330.00 204.46 L330.50 204.45 L331.00 204.44 L331.50 204.43 L332.00 204.42 L332.50 204.41 L333.00 204.40 L333.50 204.39 L334.00 204.38 L334.50 204.37 L335.00 204.36 L335.50 204.35 L336.00 204.34 L336.50 204.34 L337.00 204.33 L337.50 204.32 L338.00 204.31 L338.50 204.30 L339.00 204.30 L339.50 204.29 L340.00 204.28 L340.50 204.27 L341.00 204.27 L341.50 204.26 L342.00 204.25 L342.50 204.25 L343.00 204.24 L343.50 204.23 L344.00 204.23 L344.50 204.22 L345.00 204.21 L345.50 204.21 L346.00 204.20 L346.50 204.19 L347.00 204.19 L347.50 204.18 L348.00 204.18 L348.50 204.17 L349.00 204.17 L349.50 204.16 L350.00 204.16 L350.50 204.15 L351.00 204.15 L351.50 204.14 L352.00 204.14 L352.50 204.13 L353.00 204.13 L353.50 204.12 L354.00 204.12 L354.50 204.11 L355.00 204.11 L355.50 204.10 L356.00 204.10 L356.50 204.10 L357.00 204.09 L357.50 204.09 L358.00 204.08 L358.50 204.08 L359.00 204.08 L359.50 204.07 L360.00 204.07 L360.50 204.06 L361.00 204.06 L361.50 204.06 L362.00 204.05 L362.50 204.05 L363.00 204.05 L363.50 204.04 L364.00 204.04 L364.50 204.04 L365.00 204.03 L365.50 204.03 L366.00 204.03 L366.50 204.02 L367.00 204.02 L367.50 204.02 L368.00 204.01 L368.50 204.01 L369.00 204.01 L369.50 204.01 L370.00 204.00 L370.50 204.00 L371.00 204.00 L371.50 203.99 L372.00 203.99 L372.50 203.99 L373.00 203.99 L373.50 203.98 L374.00 203.98 L374.50 203.98 L375.00 203.98 L375.50 203.97 L376.00 203.97 L376.50 203.97 L377.00 203.97 L377.50 203.97 L378.00 203.96 L378.50 203.96 L379.00 203.96 L379.50 203.96 L380.00 203.95 L380.50 203.95 L381.00 203.95 L381.50 203.95 L382.00 203.95 L382.50 203.94 L383.00 203.94 L383.50 203.94 L384.00 203.94 L384.50 203.94 L385.00 203.94 L385.50 203.93 L386.00 203.93 L386.50 203.93 L387.00 203.93 L387.50 203.93 L388.00 203.93 L388.50 203.92 L389.00 203.92 L389.50 203.92 L390.00 203.92 L390.50 203.92 L391.00 203.92 L391.50 203.91 L392.00 203.91 L392.50 203.91 L393.00 203.91 L393.50 203.91 L394.00 203.91 L394.50 203.90 L395.00 203.90 L395.50 203.90 L396.00 203.90 L396.50 203.90 L397.00 203.90 L397.50 203.90 L398.00 203.90 L398.50 203.89 L399.00 203.89 L399.50 203.89 L400.00 203.89 L400.50 203.89 L401.00 203.89 L401.50 203.89 L402.00 203.89 L402.50 203.88 L403.00 203.88 L403.50 203.88 L404.00 203.88 L404.50 203.88 L405.00 203.88 L405.50 203.88 L406.00 203.88 L406.50 203.88 L407.00 203.87 L407.50 203.87 L408.00 203.87 L408.50 203.87 L409.00 203.87 L409.50 203.87 L410.00 203.87 L410.50 203.87" stroke="#008000"/>
<path d="M49.00 203.79 L49.50 203.79 L50.00 203.79 L50.50 203.79 L51.00 203.79 L51.50 203.79 L52.00 203.79 L52.50 203.79 L53.00 203.79 L53.50 203.79 L54.00 203.79 L54.50 203.79 L55.00 203.79 L55.50 203.80 L56.00 203.80 L56.50 203.80 L57.00 203.80 L57.50 203.80 L58.00 203.80 L58.50 203.80 L59.00 203.80 L59.50 203.80 L60.00 203.80 L60.50 203.80 L61.00 203.80 L61.50 203.80 L62.00 203.80 L62.50 203.80 L63.00 203.80 L63.50 203.80 L64.00 203.80 L64.50 203.80 L65.00 203.80 L65.50 203.80 L66.00 203.81 L66.50 203.81 L67.00 203.81 L67.50 203.81 L68.00 203.81 L68.50 203.81 L69.00 203.81 L69.50 203.81 L70.00 203.81 L70.50 203.81 L71.00 203.81 L71.50 203.81 L72.00 203.81 L72.50 203.81 L73.00 203.81 L73.50 203.82 L74.00 203.82 L74.50 203.82 L75.00 203.82 L75.50 203.82 L76.00 203.82 L76.50 203.82 L77.00 203.82 L77.50 203.82 L78.00 203.82 L78.50 203.82 L79.00 203.82 L79.50 203.82 L80.00 203.83 L80.50 203.83 L81.00 203.83 L81.50 203.83 L82.00 203.83 L82.50 203.83 L83.00 203.83 L83.50 203.83 L84.00 203.83 L84.50 203.83 L85.00 203.83 L85.50 203.84 L86.00 203.84 L86.50 203.84 L87.00 203.84 L87.50 203.84 L88.00 203.84 L88.50 203.84 L89.00 203.84 L89.50 203.84 L90.00 203.85 L90.50 203.85 L91.00 203.85 L91.50 203.85 L92.00 203.85 L92.50 203.85 L93.00 203.85 L93.50 203.85 L94.00 203.86 L94.50 203.86 L95.00 203.86 L95.50 203.86 L96.00 203.86 L96.50 203.86 L97.00 203.87 L97.50 203.87 L98.00 203.87 L98.50 203.87 L99.00 203.87 L99.50 203.87 L100.00 203.87 L100.50 203.88 L101.00 203.88 L101.50 203.88 L102.00 203.88 L102.50 203.88 L103.00 203.89 L103.50 203.89 L104.00 203.89 L104.50 203.89 L105.00 203.89 L105.50 203.90 L106.00 203.90 L106.50 203.90 L107.00 203.90 L107.50 203.90 L108.00 203.91 L108.50 203.91 L109.00 203.91 L109.50 203.91 L110.00 203.92 L110.50 203.92 L111.00 203.92 L111.50 203.92 L112.00 203.93 L112.50 203.93 L113.00 203.93 L113.50 203.93 L114.00 203.94 L114.50 203.94 L115.00 203.94 L115.50 203.95 L116.00 203.95 L116.50 203.95 L117.00 203.96 L117.50 203.96 L118.00 203.96 L118.50 203.97 L119.00 203.97 L119.50 203.97 L120.00 203.98 L120.50 203.98 L121.00 203.98 L121.50 203.99 L122.00 203.99 L122.50 204.00 L123.00 204.00 L123.50 204.01 L124.00 204.01 L124.50 204.01 L125.00 204.02 L125.50 204.02 L126.00 204.03 L126.50 204.03 L127.00 204.04 L127.50 204.04 L128.00 204.05 L128.50 204.05 L129.00 204.06 L129.50 204.06 L130.00 204.07 L130.50 204.08 L131.00 204.08 L131.50 204.09 L132.00 204.09 L132.50 204.10 L133.00 204.11 L133.50 204.11 L134.00 204.12 L134.50 204.13 L135.00 204.14 L135.50 204.14 L136.00 204.15 L136.50 204.16 L137.00 204.17 L137.50 204.17 L138.00 204.18 L138.50 204.19 L139.00 204.20 L139.50 204.21 L140.00 204.22 L140.50 204.23 L141.00 204.24 L141.50 204.25 L142.00 204.26 L142.50 204.27 L143.00 204.28 L143.50 204.29 L144.00 204.30 L144.50 204.31 L145.00 204.32 L145.50 204.34 L146.00 204.35 L146.50 204.36 L147.00 204.38 L147.50 204.39 L148.00 204.40 L148.50 204.42 L149.00 204.43 L149.50 204.45 L150.00 204.46 L150.50 204.48 L151.00 204.50 L151.50 204.51 L152.00 204.53 L152.50 204.55 L153.00 204.57 L153.50 204.59 L154.00 204.61 L154.50 204.63 L155.00 204.65 L155.50 204.67 L156.00 204.69 L156.50 204.72 L157.00 204.74 L157.50 204.76 L158.00 204.79 L158.50 204.81 L159.00 204.84 L159.50 204.87 L160.00 204.90 L160.50 204.93 L161.00 204.96 L161.50 204.99 L162.00 205.02 L162.50 205.05 L163.00 205.09 L163.50 205.12 L164.00 205.16 L164.50 205.20 L165.00 205.24 L165.50 205.28 L166.00 205.32 L166.50 205.36 L167.00 205.40 L167.50 205.45 L168.00 205.50 L168.50 205.55 L169.00 205.60 L169.50 205.65 L170.00 205.71 L170.50 205.76 L171.00 205.82 L171.50 205.88 L172.00 205.94 L172.50 206.01 L173.00 206.07 L173.50 206.14 L174.00 206.22 L174.50 206.29 L175.00 206.37 L175.50 206.45 L176.00 206.53 L176.50 206.62 L177.00 206.71 L177.50 206.80 L178.00 206.90 L178.50 207.00 L179.00 207.10 L179.50 207.21 L180.00 207.32 L180.50 207.44 L181.00 207.56 L181.50 207.69 L182.00 207.82 L182.50 207.96 L183.00 208.10 L183.50 208.25 L184.00 208.41 L184.50 208.57 L185.00 208.74 L185.50 208.92 L186.00 209.11 L186.50 209.31 L187.00 209.51 L187.50 209.73 L188.00 209.97 L188.50 210.21 L189.00 210.48 L189.50 210.76 L190.00 211.06 L190.50 211.38 L191.00 211.73 L191.50 212.12 L192.00 212.53 L192.50 212.99 L193.00 213.50 L193.50 214.06 L194.00 214.69 L194.50 215.40 L195.00 216.20 L195.50 217.10 L196.00 218.12 L196.50 219.28 L197.00 220.59 L197.50 222.06 L198.00 223.72 L198.50 225.55 L199.00 227.57 L199.50 229.75 L200.00 232.06 L200.50 234.47 L201.00 236.93 L201.50 239.38 L202.00 241.77 L202.50 244.04 L203.00 246.14 L203.50 248.06 L204.00 249.78 L204.50 251.29 L205.00 252.61 L205.50 253.75 L206.00 254.73 L206.50 255.57 L207.00 256.30 L207.50 256.93 L208.00 257.48 L208.50 257.97 L209.00 258.40 L209.50 258.79 L210.00 259.14 L210.50 259.46 L211.00 259.75 L211.50 260.02 L212.00 260.27 L212.50 260.51 L213.00 260.72 L213.50 260.92 L214.00 261.11 L214.50 261.28 L215.00 261.44 L215.50 261.59 L216.00 261.72 L216.50 261.85 L217.00 261.96 L217.50 262.06 L218.00 262.15 L218.50 262.24 L219.00 262.31 L219.50 262.38 L220.00 262.43 L220.50 262.49 L221.00 262.53 L221.50 262.57 L222.00 262.60 L222.50 262.63 L223.00 262.65 L223.50 262.67 L224.00 262.68 L224.50 262.70 L225.00 262.71 L225.50 262.71 L226.00 262.72 L226.50 262.72 L227.00 262.72 L227.50 262.72 L228.00 262.73 L228.50 262.73 L229.00 262.73 L229.50 262.73 L230.00 262.73 L230.50 262.73 L231.00 262.73 L231.50 262.73 L232.00 262.73 L232.50 262.72 L233.00 262.72 L233.50 262.72 L234.00 262.71 L234.50 262.71 L235.00 262.70 L235.50 262.69 L236.00 262.67 L236.50 262.65 L237.00 262.63 L237.50 262.61 L238.00 262.57 L238.50 262.54 L239.00 262.49 L239.50 262.45 L240.00 262.39 L240.50 262.32 L241.00 262.25 L241.50 262.17 L242.00 262.08 L242.50 261.98 L243.00 261.87 L243.50 261.75 L244.00 261.61 L244.50 261.47 L245.00 261.31 L245.50 261.14 L246.00 260.96 L246.50 260.76 L247.00 260.55 L247.50 260.32 L248.00 260.07 L248.50 259.81 L249.00 259.52 L249.50 259.21 L250.00 258.86 L250.50 258.48 L251.00 258.06 L251.50 257.59 L252.00 257.05 L252.50 256.43 L253.00 255.73 L253.50 254.91 L254.00 253.95 L254.50 252.85 L255.00 251.57 L255.50 250.09 L256.00 248.42 L256.50 246.54 L257.00 244.47 L257.50 242.23 L258.00 239.87 L258.50 237.43 L259.00 234.96 L259.50 232.54 L260.00 230.20 L260.50 227.99 L261.00 225.94 L261.50 224.07 L262.00 222.38 L262.50 220.87 L263.00 219.53 L263.50 218.34 L264.00 217.29 L264.50 216.37 L265.00 215.55 L265.50 214.83 L266.00 214.18 L266.50 213.61 L267.00 213.09 L267.50 212.62 L268.00 212.20 L268.50 211.81 L269.00 211.45 L269.50 211.12 L270.00 210.82 L270.50 210.53 L271.00 210.27 L271.50 210.02 L272.00 209.78 L272.50 209.56 L273.00 209.35 L273.50 209.15 L274.00 208.96 L274.50 208.78 L275.00 208.60 L275.50 208.44 L276.00 208.28 L276.50 208.13 L277.00 207.99 L277.50 207.85 L278.00 207.71 L278.50 207.59 L279.00 207.46 L279.50 207.35 L280.00 207.23 L280.50 207.12 L281.00 207.02 L281.50 206.92 L282.00 206.82 L282.50 206.73 L283.00 206.64 L283.50 206.55 L284.00 206.47 L284.50 206.38 L285.00 206.31 L285.50 206.23 L286.00 206.16 L286.50 206.09 L287.00 206.02 L287.50 205.96 L288.00 205.89 L288.50 205.83 L289.00 205.77 L289.50 205.72 L290.00 205.66 L290.50 205.61 L291.00 205.56 L291.50 205.51 L292.00 205.46 L292.50 205.41 L293.00 205.37 L293.50 205.33 L294.00 205.28 L294.50 205.24 L295.00 205.20 L295.50 205.17 L296.00 205.13 L296.50 205.09 L297.00 205.06 L297.50 205.03 L298.00 204.99 L298.50 204.96 L299.00 204.93 L299.50 204.90 L300.00 204.87 L300.50 204.85 L301.00 204.82 L301.50 204.79 L302.00 204.77 L302.50 204.74 L303.00 204.72 L303.50 204.70 L304.00 204.67 L304.50 204.65 L305.00 204.63 L305.50 204.61 L306.00 204.59 L306.50 204.57 L307.00 204.55 L307.50 204.54 L308.00 204.52 L308.50 204.50 L309.00 204.48 L309.50 204.47 L310.00 204.45 L310.50 204.44 L311.00 204.42 L311.50 204.41 L312.00 204.39 L312.50 204.38 L313.00 204.37 L313.50 204.35 L314.00 204.34 L314.50 204.33 L315.00 204.32 L315.50 204.30 L316.00 204.29 L316.50 204.28 L317.00 204.27 L317.50 204.26 L318.00 204.25 L318.50 204.24 L319.00 204.23 L319.50 204.22 L320.00 204.21 L320.50 204.20 L321.00 204.19 L321.50 204.18 L322.00 204.18 L322.50 204.17 L323.00 204.16 L323.50 204.15 L324.00 204.14 L324.50 204.14 L325.00 204.13 L325.50 204.12 L326.00 204.12 L326.50 204.11 L327.00 204.10 L327.50 204.10 L328.00 204.09 L328.50 204.08 L329.00 204.08 L329.50 204.07 L330.00 204.07 L330.50 204.06 L331.00 204.05 L331.50 204.05 L332.00 204.04 L332.50 204.04 L333.00 204.03 L333.50 204.03 L334.00 204.02 L334.50 204.02 L335.00 204.01 L335.50 204.01 L336.00 204.01 L336.50 204.00 L337.00 204.00 L337.50 203.99 L338.00 203.99 L338.50 203.99 L339.00 203.98 L339.50 203.98 L340.00 203.97 L340.50 203.97 L341.00 203.97 L341.50 203.96 L342.00 203.96 L342.50 203.96 L343.00 203.95 L343.50 203.95 L344.00 203.95 L344.50 203.94 L345.00 203.94 L345.50 203.94 L346.00 203.94 L346.50 203.93 L347.00 203.93 L347.50 203.93 L348.00 203.92 L348.50 203.92 L349.00 203.92 L349.50 203.92 L350.00 203.91 L350.50 203.91 L351.00 203.91 L351.50 203.91 L352.00 203.90 L352.50 203.90 L353.00 203.90 L353.50 203.90 L354.00 203.90 L354.50 203.89 L355.00 203.89 L355.50 203.89 L356.00 203.89 L356.50 203.89 L357.00 203.88 L357.50 203.88 L358.00 203.88 L358.50 203.88 L359.00 203.88 L359.50 203.88 L360.00 203.87 L360.50 203.87 L361.00 203.87 L361.50 203.87 L362.00 203.87 L362.50 203.87 L363.00 203.86 L363.50 203.86 L364.00 203.86 L364.50 203.86 L365.00 203.86 L365.50 203.86 L366.00 203.86 L366.50 203.85 L367.00 203.85 L367.50 203.85 L368.00 203.85 L368.50 203.85 L369.00 203.85 L369.50 203.85 L370.00 203.85 L370.50 203.84 L371.00 203.84 L371.50 203.84 L372.00 203.84 L372.50 203.84 L373.00 203.84 L373.50 203.84 L374.00 203.84 L374.50 203.84 L375.00 203.83 L375.50 203.83 L376.00 203.83 L376.50 203.83 L377.00 203.83 L377.50 203.83 L378.00 203.83 L378.50 203.83 L379.00 203.83 L379.50 203.83 L380.00 203.82 L380.50 203.82 L381.00 203.82 L381.50 203.82 L382.00 203.82 L382.50 203.82 L383.00 203.82 L383.50 203.82 L384.00 203.82 L384.50 203.82 L385.00 203.82 L385.50 203.82 L386.00 203.82 L386.50 203.81 L387.00 203.81 L387.50 203.81 L388.00 203.81 L388.50 203.81 L389.00 203.81 L389.50 203.81 L390.00 203.81 L390.50 203.81 L391.00 203.81 L391.50 203.81 L392.00 203.81 L392.50 203.81 L393.00 203.81 L393.50 203.81 L394.00 203.81 L394.50 203.80 L395.00 203.80 L395.50 203.80 L396.00 203.80 L396.50 203.80 L397.00 203.80 L397.50 203.80 L398.00 203.80 L398.50 203.80 L399.00 203.80 L399.50 203.80 L400.00 203.80 L400.50 203.80 L401.00 203.80 L401.50 203.80 L402.00 203.80 L402.50 203.80 L403.00 203.80 L403.50 203.80 L404.00 203.80 L404.50 203.79 L405.00 203.79 L405.50 203.79 L406.00 203.79 L406.50 203.79 L407.00 203.79 L407.50 203.79 L408.00 203.79 L408.50 203.79 L409.00 203.79 L409.50 203.79 L410.00 203.79 L410.50 203.79" stroke="#0000ff" stroke-dasharray="4.6 4.6"/>
<path d="M49.00 203.77 L49.50 203.77 L50.00 203.77 L50.50 203.77 L51.00 203.77 L51.50 203.77 L52.00 203.77 L52.50 203.77 L53.00 203.77 L53.50 203.77 L54.00 203.77 L54.50 203.77 L55.00 203.77 L55.50 203.77 L56.00 203.77 L56.50 203.77 L57.00 203.77 L57.50 203.77 L58.00 203.77 L58.50 203.77 L59.00 203.77 L59.50 203.77 L60.00 203.77 L60.50 203.77 L61.00 203.77 L61.50 203.77 L62.00 203.77 L62.50 203.77 L63.00 203.78 L63.50 203.78 L64.00 203.78 L64.50 203.78 L65.00 203.78 L65.50 203.78 L66.00 203.78 L66.50 203.78 L67.00 203.78 L67.50 203.78 L68.00 203.78 L68.50 203.78 L69.00 203.78 L69.50 203.78 L70.00 203.78 L70.50 203.78 L71.00 203.78 L71.50 203.78 L72.00 203.78 L72.50 203.78 L73.00 203.78 L73.50 203.78 L74.00 203.78 L74.50 203.78 L75.00 203.78 L75.50 203.78 L76.00 203.78 L76.50 203.78 L77.00 203.78 L77.50 203.78 L78.00 203.78 L78.50 203.78 L79.00 203.79 L79.50 203.79 L80.00 203.79 L80.50 203.79 L81.00 203.79 L81.50 203.79 L82.00 203.79 L82.50 203.79 L83.00 203.79 L83.50 203.79 L84.00 203.79 L84.50 203.79 L85.00 203.79 L85.50 203.79 L86.00 203.79 L86.50 203.79 L87.00 203.79 L87.50 203.79 L88.00 203.79 L88.50 203.79 L89.00 203.79 L89.50 203.79 L90.00 203.80 L90.50 203.80 L91.00 203.80 L91.50 203.80 L92.00 203.80 L92.50 203.80 L93.00 203.80 L93.50 203.80 L94.00 203.80 L94.50 203.80 L95.00 203.80 L95.50 203.80 L96.00 203.80 L96.50 203.80 L97.00 203.80 L97.50 203.81 L98.00 203.81 L98.50 203.81 L99.00 203.81 L99.50 203.81 L100.00 203.81 L100.50 203.81 L101.00 203.81 L101.50 203.81 L102.00 203.81 L102.50 203.81 L103.00 203.81 L103.50 203.82 L104.00 203.82 L104.50 203.82 L105.00 203.82 L105.50 203.82 L106.00 203.82 L106.50 203.82 L107.00 203.82 L107.50 203.82 L108.00 203.82 L108.50 203.83 L109.00 203.83 L109.50 203.83 L110.00 203.83 L110.50 203.83 L111.00 203.83 L111.50 203.83 L112.00 203.83 L112.50 203.84 L113.00 203.84 L113.50 203.84 L114.00 203.84 L114.50 203.84 L115.00 203.84 L115.50 203.84 L116.00 203.85 L116.50 203.85 L117.00 203.85 L117.50 203.85 L118.00 203.85 L118.50 203.85 L119.00 203.86 L119.50 203.86 L120.00 203.86 L120.50 203.86 L121.00 203.86 L121.50 203.87 L122.00 203.87 L122.50 203.87 L123.00 203.87 L123.50 203.87 L124.00 203.88 L124.50 203.88 L125.00 203.88 L125.50 203.88 L126.00 203.88 L126.50 203.89 L127.00 203.89 L127.50 203.89 L128.00 203.90 L128.50 203.90 L129.00 203.90 L129.50 203.90 L130.00 203.91 L130.50 203.91 L131.00 203.91 L131.50 203.92 L132.00 203.92 L132.50 203.92 L133.00 203.93 L133.50 203.93 L134.00 203.93 L134.50 203.94 L135.00 203.94 L135.50 203.94 L136.00 203.95 L136.50 203.95 L137.00 203.96 L137.50 203.96 L138.00 203.96 L138.50 203.97 L139.00 203.97 L139.50 203.98 L140.00 203.98 L140.50 203.99 L141.00 203.99 L141.50 204.00 L142.00 204.00 L142.50 204.01 L143.00 204.01 L143.50 204.02 L144.00 204.03 L144.50 204.03 L145.00 204.04 L145.50 204.05 L146.00 204.05 L146.50 204.06 L147.00 204.07 L147.50 204.07 L148.00 204.08 L148.50 204.09 L149.00 204.10 L149.50 204.11 L150.00 204.11 L150.50 204.12 L151.00 204.13 L151.50 204.14 L152.00 204.15 L152.50 204.16 L153.00 204.17 L153.50 204.18 L154.00 204.19 L154.50 204.20 L155.00 204.22 L155.50 204.23 L156.00 204.24 L156.50 204.25 L157.00 204.27 L157.50 204.28 L158.00 204.29 L158.50 204.31 L159.00 204.32 L159.50 204.34 L160.00 204.35 L160.50 204.37 L161.00 204.39 L161.50 204.40 L162.00 204.42 L162.50 204.44 L163.00 204.46 L163.50 204.48 L164.00 204.50 L164.50 204.52 L165.00 204.55 L165.50 204.57 L166.00 204.59 L166.50 204.62 L167.00 204.65 L167.50 204.67 L168.00 204.70 L168.50 204.73 L169.00 204.76 L169.50 204.79 L170.00 204.82 L170.50 204.86 L171.00 204.89 L171.50 204.93 L172.00 204.97 L172.50 205.01 L173.00 205.05 L173.50 205.09 L174.00 205.13 L174.50 205.18 L175.00 205.23 L175.50 205.28 L176.00 205.33 L176.50 205.38 L177.00 205.44 L177.50 205.50 L178.00 205.56 L178.50 205.62 L179.00 205.69 L179.50 205.76 L180.00 205.83 L180.50 205.91 L181.00 205.99 L181.50 206.07 L182.00 206.16 L182.50 206.25 L183.00 206.34 L183.50 206.45 L184.00 206.55 L184.50 206.66 L185.00 206.78 L185.50 206.90 L186.00 207.04 L186.50 207.17 L187.00 207.32 L187.50 207.48 L188.00 207.65 L188.50 207.83 L189.00 208.02 L189.50 208.23 L190.00 208.46 L190.50 208.71 L191.00 208.99 L191.50 209.30 L192.00 209.64 L192.50 210.02 L193.00 210.45 L193.50 210.94 L194.00 211.51 L194.50 212.16 L195.00 212.91 L195.50 213.78 L196.00 214.80 L196.50 215.99 L197.00 217.38 L197.50 218.98 L198.00 220.81 L198.50 222.89 L199.00 225.22 L199.50 227.76 L200.00 230.48 L200.50 233.32 L201.00 236.20 L201.50 239.03 L202.00 241.73 L202.50 244.24 L203.00 246.51 L203.50 248.51 L204.00 250.25 L204.50 251.74 L205.00 253.01 L205.50 254.08 L206.00 254.98 L206.50 255.75 L207.00 256.41 L207.50 256.98 L208.00 257.48 L208.50 257.93 L209.00 258.34 L209.50 258.71 L210.00 259.05 L210.50 259.36 L211.00 259.65 L211.50 259.93 L212.00 260.19 L212.50 260.43 L213.00 260.65 L213.50 260.86 L214.00 261.06 L214.50 261.24 L215.00 261.41 L215.50 261.57 L216.00 261.71 L216.50 261.84 L217.00 261.96 L217.50 262.07 L218.00 262.16 L218.50 262.25 L219.00 262.32 L219.50 262.39 L220.00 262.45 L220.50 262.50 L221.00 262.54 L221.50 262.58 L222.00 262.61 L222.50 262.64 L223.00 262.66 L223.50 262.68 L224.00 262.69 L224.50 262.70 L225.00 262.71 L225.50 262.72 L226.00 262.72 L226.50 262.72 L227.00 262.72 L227.50 262.73 L228.00 262.73 L228.50 262.73 L229.00 262.73 L229.50 262.73 L230.00 262.73 L230.50 262.73 L231.00 262.73 L231.50 262.73 L232.00 262.73 L232.50 262.72 L233.00 262.72 L233.50 262.72 L234.00 262.72 L234.50 262.71 L235.00 262.70 L235.50 262.69 L236.00 262.68 L236.50 262.66 L237.00 262.64 L237.50 262.62 L238.00 262.59 L238.50 262.55 L239.00 262.51 L239.50 262.46 L240.00 262.40 L240.50 262.34 L241.00 262.26 L241.50 262.18 L242.00 262.09 L242.50 261.98 L243.00 261.87 L243.50 261.74 L244.00 261.60 L244.50 261.44 L245.00 261.28 L245.50 261.10 L246.00 260.90 L246.50 260.70 L247.00 260.47 L247.50 260.24 L248.00 259.98 L248.50 259.71 L249.00 259.42 L249.50 259.11 L250.00 258.78 L250.50 258.41 L251.00 258.02 L251.50 257.58 L252.00 257.09 L252.50 256.53 L253.00 255.89 L253.50 255.14 L254.00 254.27 L254.50 253.24 L255.00 252.01 L255.50 250.57 L256.00 248.88 L256.50 246.93 L257.00 244.71 L257.50 242.25 L258.00 239.58 L258.50 236.77 L259.00 233.90 L259.50 231.04 L260.00 228.29 L260.50 225.71 L261.00 223.34 L261.50 221.21 L262.00 219.32 L262.50 217.68 L263.00 216.25 L263.50 215.03 L264.00 213.98 L264.50 213.07 L265.00 212.30 L265.50 211.63 L266.00 211.05 L266.50 210.54 L267.00 210.10 L267.50 209.71 L268.00 209.36 L268.50 209.05 L269.00 208.77 L269.50 208.51 L270.00 208.28 L270.50 208.06 L271.00 207.87 L271.50 207.68 L272.00 207.51 L272.50 207.35 L273.00 207.20 L273.50 207.06 L274.00 206.93 L274.50 206.80 L275.00 206.69 L275.50 206.57 L276.00 206.47 L276.50 206.36 L277.00 206.27 L277.50 206.18 L278.00 206.09 L278.50 206.00 L279.00 205.92 L279.50 205.85 L280.00 205.77 L280.50 205.70 L281.00 205.64 L281.50 205.57 L282.00 205.51 L282.50 205.45 L283.00 205.39 L283.50 205.34 L284.00 205.29 L284.50 205.24 L285.00 205.19 L285.50 205.14 L286.00 205.10 L286.50 205.05 L287.00 205.01 L287.50 204.97 L288.00 204.94 L288.50 204.90 L289.00 204.86 L289.50 204.83 L290.00 204.80 L290.50 204.77 L291.00 204.74 L291.50 204.71 L292.00 204.68 L292.50 204.65 L293.00 204.62 L293.50 204.60 L294.00 204.58 L294.50 204.55 L295.00 204.53 L295.50 204.51 L296.00 204.49 L296.50 204.47 L297.00 204.45 L297.50 204.43 L298.00 204.41 L298.50 204.39 L299.00 204.37 L299.50 204.36 L300.00 204.34 L300.50 204.33 L301.00 204.31 L301.50 204.30 L302.00 204.28 L302.50 204.27 L303.00 204.25 L303.50 204.24 L304.00 204.23 L304.50 204.22 L305.00 204.21 L305.50 204.19 L306.00 204.18 L306.50 204.17 L307.00 204.16 L307.50 204.15 L308.00 204.14 L308.50 204.13 L309.00 204.12 L309.50 204.12 L310.00 204.11 L310.50 204.10 L311.00 204.09 L311.50 204.08 L312.00 204.08 L312.50 204.07 L313.00 204.06 L313.50 204.05 L314.00 204.05 L314.50 204.04 L315.00 204.03 L315.50 204.03 L316.00 204.02 L316.50 204.02 L317.00 204.01 L317.50 204.00 L318.00 204.00 L318.50 203.99 L319.00 203.99 L319.50 203.98 L320.00 203.98 L320.50 203.97 L321.00 203.97 L321.50 203.97 L322.00 203.96 L322.50 203.96 L323.00 203.95 L323.50 203.95 L324.00 203.94 L324.50 203.94 L325.00 203.94 L325.50 203.93 L326.00 203.93 L326.50 203.93 L327.00 203.92 L327.50 203.92 L328.00 203.92 L328.50 203.91 L329.00 203.91 L329.50 203.91 L330.00 203.90 L330.50 203.90 L331.00 203.90 L331.50 203.90 L332.00 203.89 L332.50 203.89 L333.00 203.89 L333.50 203.89 L334.00 203.88 L334.50 203.88 L335.00 203.88 L335.50 203.88 L336.00 203.87 L336.50 203.87 L337.00 203.87 L337.50 203.87 L338.00 203.87 L338.50 203.86 L339.00 203.86 L339.50 203.86 L340.00 203.86 L340.50 203.86 L341.00 203.85 L341.50 203.85 L342.00 203.85 L342.50 203.85 L343.00 203.85 L343.50 203.85 L344.00 203.84 L344.50 203.84 L345.00 203.84 L345.50 203.84 L346.00 203.84 L346.50 203.84 L347.00 203.84 L347.50 203.83 L348.00 203.83 L348.50 203.83 L349.00 203.83 L349.50 203.83 L350.00 203.83 L350.50 203.83 L351.00 203.83 L351.50 203.82 L352.00 203.82 L352.50 203.82 L353.00 203.82 L353.50 203.82 L354.00 203.82 L354.50 203.82 L355.00 203.82 L355.50 203.82 L356.00 203.82 L356.50 203.81 L357.00 203.81 L357.50 203.81 L358.00 203.81 L358.50 203.81 L359.00 203.81 L359.50 203.81 L360.00 203.81 L360.50 203.81 L361.00 203.81 L361.50 203.81 L362.00 203.81 L362.50 203.80 L363.00 203.80 L363.50 203.80 L364.00 203.80 L364.50 203.80 L365.00 203.80 L365.50 203.80 L366.00 203.80 L366.50 203.80 L367.00 203.80 L367.50 203.80 L368.00 203.80 L368.50 203.80 L369.00 203.80 L369.50 203.80 L370.00 203.80 L370.50 203.79 L371.00 203.79 L371.50 203.79 L372.00 203.79 L372.50 203.79 L373.00 203.79 L373.50 203.79 L374.00 203.79 L374.50 203.79 L375.00 203.79 L375.50 203.79 L376.00 203.79 L376.50 203.79 L377.00 203.79 L377.50 203.79 L378.00 203.79 L378.50 203.79 L379.00 203.79 L379.50 203.79 L380.00 203.79 L380.50 203.79 L381.00 203.78 L381.50 203.78 L382.00 203.78 L382.50 203.78 L383.00 203.78 L383.50 203.78 L384.00 203.78 L384.50 203.78 L385.00 203.78 L385.50 203.78 L386.00 203.78 L386.50 203.78 L387.00 203.78 L387.50 203.78 L388.00 203.78 L388.50 203.78 L389.00 203.78 L389.50 203.78 L390.00 203.78 L390.50 203.78 L391.00 203.78 L391.50 203.78 L392.00 203.78 L392.50 203.78 L393.00 203.78 L393.50 203.78 L394.00 203.78 L394.50 203.78 L395.00 203.78 L395.50 203.78 L396.00 203.78 L396.50 203.78 L397.00 203.77 L397.50 203.77 L398.00 203.77 L398.50 203.77 L399.00 203.77 L399.50 203.77 L400.00 203.77 L400.50 203.77 L401.00 203.77 L401.50 203.77 L402.00 203.77 L402.50 203.77 L403.00 203.77 L403.50 203.77 L404.00 203.77 L404.50 203.77 L405.00 203.77 L405.50 203.77 L406.00 203.77 L406.50 203.77 L407.00 203.77 L407.50 203.77 L408.00 203.77 L408.50 203.77 L409.00 203.77 L409.50 203.77 L410.00 203.77 L410.50 203.77" stroke="#ff0000" stroke-dasharray="1.0 2.08"/>
</g>
<path d="M49.0 288.00h3.1M410.5 288.00h-3.1M49.0 271.15h3.1M410.5 271.15h-3.1M49.0 254.30h3.1M410.5 254.30h-3.1M49.0 237.45h3.1M410.5 237.45h-3.1M49.0 220.60h3.1M410.5 220.60h-3.1M49.0 203.75h3.1M410.5 203.75h-3.1M121.10 195.33v3.1M121.10 288.00v-3.1M193.40 195.33v3.1M193.40 288.00v-3.1M265.70 195.33v3.1M265.70 288.00v-3.1M338.00 195.33v3.1M338.00 288.00v-3.1" stroke="#000" stroke-width="0.45" fill="none"/>
<rect x="49.0" y="195.33" width="361.5" height="92.67" fill="none" stroke="#000" stroke-width="1.1"/>
<text class="yt" x="44.2" y="291.80">0.000</text>
<text class="yt" x="44.2" y="274.95">0.002</text>
<text class="yt" x="44.2" y="258.10">0.004</text>
<text class="yt" x="44.2" y="241.25">0.006</text>
<text class="yt" x="44.2" y="224.40">0.008</text>
<text class="yt" x="44.2" y="207.55">0.010</text>
<rect x="56.3" y="36.0" width="83.70" height="40.40" fill="#fff" stroke="#000" stroke-width="1.1"/>
<path d="M64.9 44.4H84.0" stroke="#008000" stroke-width="1.1"/>
<text class="lg cal" x="90.6" y="48.60">&#x1D49C;</text>
<text class="lg eq" x="102.2" y="49.50">=</text>
<text class="lg" x="112.8" y="48.60">70%</text>
<path d="M64.9 56.4H83.2" stroke="#0000ff" stroke-width="1.1" stroke-dasharray="4.6 4.6"/>
<text class="lg cal" x="90.6" y="60.60">&#x1D49C;</text>
<text class="lg eq" x="102.2" y="61.50">=</text>
<text class="lg" x="112.8" y="60.60">50%</text>
<path d="M65.4 68.4H83.0" stroke="#ff0000" stroke-width="1.1" stroke-dasharray="1.0 2.08"/>
<text class="lg cal" x="90.6" y="72.60">&#x1D49C;</text>
<text class="lg eq" x="102.2" y="73.50">=</text>
<text class="lg" x="112.8" y="72.60">30%</text>
<rect x="56.3" y="131.5" width="73.20" height="34.90" fill="#fff" stroke="#000" stroke-width="1.1"/>
<path d="M64.9 138.5H84.0" stroke="#008000" stroke-width="1.1"/>
<text class="lg it" x="89.4" y="142.70">e</text>
<text class="lg eq" x="97.5" y="143.60">=</text>
<text class="lg" x="108.7" y="142.70">0.6</text>
<path d="M64.9 148.9H83.2" stroke="#0000ff" stroke-width="1.1" stroke-dasharray="4.6 4.6"/>
<text class="lg it" x="89.4" y="153.10">e</text>
<text class="lg eq" x="97.5" y="154.00">=</text>
<text class="lg" x="108.7" y="153.10">0.4</text>
<path d="M65.4 159.2H83.0" stroke="#ff0000" stroke-width="1.1" stroke-dasharray="1.0 2.08"/>
<text class="lg it" x="89.4" y="163.40">e</text>
<text class="lg eq" x="97.5" y="164.30">=</text>
<text class="lg" x="108.7" y="163.40">0.2</text>
<rect x="56.3" y="224.4" width="71.20" height="34.60" fill="#fff" stroke="#000" stroke-width="1.1"/>
<path d="M64.9 231.0H84.0" stroke="#008000" stroke-width="1.1"/>
<text class="lg it" x="89.4" y="235.20">σ</text>
<text class="lg eq" x="98.1" y="236.10">=</text>
<text class="lg" x="109.6" y="235.20">10</text>
<path d="M64.9 241.2H83.2" stroke="#0000ff" stroke-width="1.1" stroke-dasharray="4.6 4.6"/>
<text class="lg it" x="89.4" y="245.40">σ</text>
<text class="lg eq" x="98.1" y="246.30">=</text>
<text class="lg" x="109.6" y="245.40">20</text>
<path d="M65.4 251.4H83.0" stroke="#ff0000" stroke-width="1.1" stroke-dasharray="1.0 2.08"/>
<text class="lg it" x="89.4" y="255.60">σ</text>
<text class="lg eq" x="98.1" y="256.50">=</text>
<text class="lg" x="109.6" y="255.60">30</text>
<text class="pl" transform="translate(388.9 90.67) scale(1.13 1)">a</text>
<text class="pl" x="395.5" y="91.17" style="font-size:14.8px">)</text>
<text class="pl" transform="translate(388.9 183.34) scale(1.13 1)">b</text>
<text class="pl" x="395.5" y="183.84" style="font-size:14.8px">)</text>
<text class="pl" transform="translate(388.9 276.00) scale(1.13 1)">c</text>
<text class="pl" x="395.5" y="276.50" style="font-size:14.8px">)</text>
<text class="xt" x="48.30" y="298.6">6</text>
<text class="xt" x="120.60" y="298.6">5</text>
<text class="xt" x="192.90" y="298.6">4</text>
<text class="xt" x="265.20" y="298.6">3</text>
<text class="xt" x="337.50" y="298.6">2</text>
<text class="xt" x="409.80" y="298.6">1</text>
<text class="it" x="211.2" y="313.7" style="font-size:14.6px">T</text>
<text x="219.9" y="317.4" style="font-size:19.5px">/</text>
<text class="it" x="226.4" y="313.7" style="font-size:14.6px">T</text>
<text x="234.9" y="316.1" style="font-size:6.8px;letter-spacing:0.3px;fill:#222">xref</text>
</svg></body></html>
